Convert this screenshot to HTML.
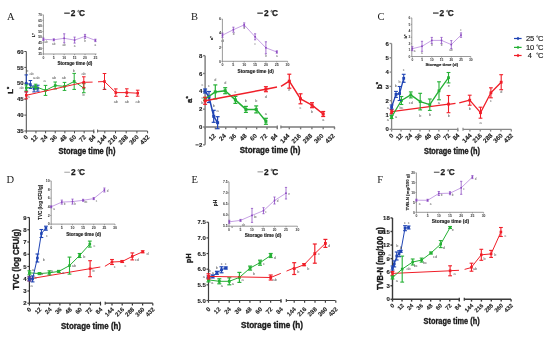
<!DOCTYPE html><html><head><meta charset="utf-8"><style>html,body{margin:0;padding:0;background:#fff;overflow:hidden;}svg{display:block;filter:blur(0.42px);}</style></head><body>
<svg width="550" height="337" viewBox="0 0 550 337">
<rect width="550" height="337" fill="#fff"/>
<g opacity="0.999">
<text x="7" y="19.8" font-family="Liberation Serif, serif" font-size="10.5" font-weight="normal" text-anchor="start" fill="#1a1a1a">A</text>
<rect x="64.2" y="12.6" width="5.6" height="1.1" fill="#1a1a1a"/>
<g font-family="Liberation Sans, sans-serif" font-size="8.3" font-weight="bold" fill="#1a1a1a" stroke="#1a1a1a" stroke-width="0.25">
<text x="70.8" y="16.2">2</text>
<text x="79" y="16.2">C</text>
</g>
<circle cx="78.5" cy="11.2" r="0.8" fill="none" stroke="#1a1a1a" stroke-width="0.6"/>
<line x1="26.3" y1="51.5" x2="26.3" y2="131" stroke="#4a4a4a" stroke-width="1"/>
<line x1="24.3" y1="51.5" x2="26.3" y2="51.5" stroke="#4a4a4a" stroke-width="1"/>
<text x="23.6" y="53.66" font-family="Liberation Sans, sans-serif" font-size="6" font-weight="bold" text-anchor="end" fill="#1a1a1a" stroke="#1a1a1a" stroke-width="0.12">60</text>
<line x1="24.3" y1="67.4" x2="26.3" y2="67.4" stroke="#4a4a4a" stroke-width="1"/>
<text x="23.6" y="69.56" font-family="Liberation Sans, sans-serif" font-size="6" font-weight="bold" text-anchor="end" fill="#1a1a1a" stroke="#1a1a1a" stroke-width="0.12">55</text>
<line x1="24.3" y1="83.3" x2="26.3" y2="83.3" stroke="#4a4a4a" stroke-width="1"/>
<text x="23.6" y="85.46" font-family="Liberation Sans, sans-serif" font-size="6" font-weight="bold" text-anchor="end" fill="#1a1a1a" stroke="#1a1a1a" stroke-width="0.12">50</text>
<line x1="24.3" y1="99.2" x2="26.3" y2="99.2" stroke="#4a4a4a" stroke-width="1"/>
<text x="23.6" y="101.36" font-family="Liberation Sans, sans-serif" font-size="6" font-weight="bold" text-anchor="end" fill="#1a1a1a" stroke="#1a1a1a" stroke-width="0.12">45</text>
<line x1="24.3" y1="115.1" x2="26.3" y2="115.1" stroke="#4a4a4a" stroke-width="1"/>
<text x="23.6" y="117.26" font-family="Liberation Sans, sans-serif" font-size="6" font-weight="bold" text-anchor="end" fill="#1a1a1a" stroke="#1a1a1a" stroke-width="0.12">40</text>
<line x1="24.3" y1="131" x2="26.3" y2="131" stroke="#4a4a4a" stroke-width="1"/>
<text x="23.6" y="133.16" font-family="Liberation Sans, sans-serif" font-size="6" font-weight="bold" text-anchor="end" fill="#1a1a1a" stroke="#1a1a1a" stroke-width="0.12">35</text>
<line x1="26.3" y1="131" x2="93.8" y2="131" stroke="#4a4a4a" stroke-width="1"/>
<line x1="97.6" y1="131" x2="147.5" y2="131" stroke="#4a4a4a" stroke-width="1"/>
<line x1="93.8" y1="129.5" x2="93.8" y2="132.5" stroke="#4a4a4a" stroke-width="0.9"/>
<line x1="97.6" y1="129.5" x2="97.6" y2="132.5" stroke="#4a4a4a" stroke-width="0.9"/>
<line x1="26.3" y1="131" x2="26.3" y2="133.3" stroke="#4a4a4a" stroke-width="1"/>
<text x="28.6" y="137.6" font-family="Liberation Sans, sans-serif" font-size="6.3" font-weight="bold" text-anchor="end" fill="#1a1a1a" transform="rotate(-45 28.6 137.6)" stroke="#1a1a1a" stroke-width="0.1">0</text>
<line x1="35.94" y1="131" x2="35.94" y2="133.3" stroke="#4a4a4a" stroke-width="1"/>
<text x="38.24" y="137.6" font-family="Liberation Sans, sans-serif" font-size="6.3" font-weight="bold" text-anchor="end" fill="#1a1a1a" transform="rotate(-45 38.24 137.6)" stroke="#1a1a1a" stroke-width="0.1">12</text>
<line x1="45.59" y1="131" x2="45.59" y2="133.3" stroke="#4a4a4a" stroke-width="1"/>
<text x="47.89" y="137.6" font-family="Liberation Sans, sans-serif" font-size="6.3" font-weight="bold" text-anchor="end" fill="#1a1a1a" transform="rotate(-45 47.89 137.6)" stroke="#1a1a1a" stroke-width="0.1">24</text>
<line x1="55.23" y1="131" x2="55.23" y2="133.3" stroke="#4a4a4a" stroke-width="1"/>
<text x="57.53" y="137.6" font-family="Liberation Sans, sans-serif" font-size="6.3" font-weight="bold" text-anchor="end" fill="#1a1a1a" transform="rotate(-45 57.53 137.6)" stroke="#1a1a1a" stroke-width="0.1">36</text>
<line x1="64.87" y1="131" x2="64.87" y2="133.3" stroke="#4a4a4a" stroke-width="1"/>
<text x="67.17" y="137.6" font-family="Liberation Sans, sans-serif" font-size="6.3" font-weight="bold" text-anchor="end" fill="#1a1a1a" transform="rotate(-45 67.17 137.6)" stroke="#1a1a1a" stroke-width="0.1">48</text>
<line x1="74.51" y1="131" x2="74.51" y2="133.3" stroke="#4a4a4a" stroke-width="1"/>
<text x="76.81" y="137.6" font-family="Liberation Sans, sans-serif" font-size="6.3" font-weight="bold" text-anchor="end" fill="#1a1a1a" transform="rotate(-45 76.81 137.6)" stroke="#1a1a1a" stroke-width="0.1">60</text>
<line x1="84.16" y1="131" x2="84.16" y2="133.3" stroke="#4a4a4a" stroke-width="1"/>
<text x="86.46" y="137.6" font-family="Liberation Sans, sans-serif" font-size="6.3" font-weight="bold" text-anchor="end" fill="#1a1a1a" transform="rotate(-45 86.46 137.6)" stroke="#1a1a1a" stroke-width="0.1">72</text>
<line x1="93.8" y1="131" x2="93.8" y2="133.3" stroke="#4a4a4a" stroke-width="1"/>
<text x="96.1" y="137.6" font-family="Liberation Sans, sans-serif" font-size="6.3" font-weight="bold" text-anchor="end" fill="#1a1a1a" transform="rotate(-45 96.1 137.6)" stroke="#1a1a1a" stroke-width="0.1">84</text>
<line x1="104.8" y1="131" x2="104.8" y2="133.3" stroke="#4a4a4a" stroke-width="1"/>
<text x="107.1" y="137.6" font-family="Liberation Sans, sans-serif" font-size="6.3" font-weight="bold" text-anchor="end" fill="#1a1a1a" transform="rotate(-45 107.1 137.6)" stroke="#1a1a1a" stroke-width="0.1">144</text>
<line x1="115.5" y1="131" x2="115.5" y2="133.3" stroke="#4a4a4a" stroke-width="1"/>
<text x="117.8" y="137.6" font-family="Liberation Sans, sans-serif" font-size="6.3" font-weight="bold" text-anchor="end" fill="#1a1a1a" transform="rotate(-45 117.8 137.6)" stroke="#1a1a1a" stroke-width="0.1">216</text>
<line x1="126.2" y1="131" x2="126.2" y2="133.3" stroke="#4a4a4a" stroke-width="1"/>
<text x="128.5" y="137.6" font-family="Liberation Sans, sans-serif" font-size="6.3" font-weight="bold" text-anchor="end" fill="#1a1a1a" transform="rotate(-45 128.5 137.6)" stroke="#1a1a1a" stroke-width="0.1">288</text>
<line x1="136.9" y1="131" x2="136.9" y2="133.3" stroke="#4a4a4a" stroke-width="1"/>
<text x="139.2" y="137.6" font-family="Liberation Sans, sans-serif" font-size="6.3" font-weight="bold" text-anchor="end" fill="#1a1a1a" transform="rotate(-45 139.2 137.6)" stroke="#1a1a1a" stroke-width="0.1">360</text>
<line x1="147.6" y1="131" x2="147.6" y2="133.3" stroke="#4a4a4a" stroke-width="1"/>
<text x="149.9" y="137.6" font-family="Liberation Sans, sans-serif" font-size="6.3" font-weight="bold" text-anchor="end" fill="#1a1a1a" transform="rotate(-45 149.9 137.6)" stroke="#1a1a1a" stroke-width="0.1">432</text>
<text x="58.4" y="154.3" font-family="Liberation Sans, sans-serif" font-size="8.4" font-weight="bold" text-anchor="start" fill="#1a1a1a" stroke="#1a1a1a" stroke-width="0.35" textLength="57" lengthAdjust="spacingAndGlyphs">Storage time (h)</text>
<text x="12.9" y="90.3" font-family="Liberation Sans, sans-serif" font-size="7.9" font-weight="bold" text-anchor="middle" fill="#1a1a1a" transform="rotate(-90 12.9 90.3)" stroke="#1a1a1a" stroke-width="0.35">L<tspan font-size="5.5" dy="-1.8">*</tspan></text>
<polyline points="26.3,83.4 30.4,84.5 34.1,88.9 37.8,88.2" fill="none" stroke="#1f44b4" stroke-width="1" stroke-linejoin="round"/>
<line x1="26.3" y1="74.9" x2="26.3" y2="91.9" stroke="#1f44b4" stroke-width="1"/>
<line x1="24.5" y1="74.9" x2="28.1" y2="74.9" stroke="#1f44b4" stroke-width="1"/>
<line x1="24.5" y1="91.9" x2="28.1" y2="91.9" stroke="#1f44b4" stroke-width="1"/>
<rect x="25" y="82.1" width="2.6" height="2.6" fill="#1f44b4"/>
<line x1="30.4" y1="80.5" x2="30.4" y2="88.5" stroke="#1f44b4" stroke-width="1"/>
<line x1="28.6" y1="80.5" x2="32.2" y2="80.5" stroke="#1f44b4" stroke-width="1"/>
<line x1="28.6" y1="88.5" x2="32.2" y2="88.5" stroke="#1f44b4" stroke-width="1"/>
<rect x="29.1" y="83.2" width="2.6" height="2.6" fill="#1f44b4"/>
<line x1="34.1" y1="85.9" x2="34.1" y2="91.9" stroke="#1f44b4" stroke-width="1"/>
<line x1="32.3" y1="85.9" x2="35.9" y2="85.9" stroke="#1f44b4" stroke-width="1"/>
<line x1="32.3" y1="91.9" x2="35.9" y2="91.9" stroke="#1f44b4" stroke-width="1"/>
<rect x="32.8" y="87.6" width="2.6" height="2.6" fill="#1f44b4"/>
<line x1="37.8" y1="85.2" x2="37.8" y2="91.2" stroke="#1f44b4" stroke-width="1"/>
<line x1="36" y1="85.2" x2="39.6" y2="85.2" stroke="#1f44b4" stroke-width="1"/>
<line x1="36" y1="91.2" x2="39.6" y2="91.2" stroke="#1f44b4" stroke-width="1"/>
<rect x="36.5" y="86.9" width="2.6" height="2.6" fill="#1f44b4"/>
<polyline points="26.3,87.9 35.6,86.7 45.5,90.4 55.2,85.5 64.5,86.4 74.2,81.4 83.8,88.2" fill="none" stroke="#24b034" stroke-width="1" stroke-linejoin="round"/>
<line x1="26.3" y1="84.9" x2="26.3" y2="90.9" stroke="#24b034" stroke-width="1"/>
<line x1="24.5" y1="84.9" x2="28.1" y2="84.9" stroke="#24b034" stroke-width="1"/>
<line x1="24.5" y1="90.9" x2="28.1" y2="90.9" stroke="#24b034" stroke-width="1"/>
<rect x="25" y="86.6" width="2.6" height="2.6" fill="#24b034"/>
<line x1="35.6" y1="84.2" x2="35.6" y2="89.2" stroke="#24b034" stroke-width="1"/>
<line x1="33.8" y1="84.2" x2="37.4" y2="84.2" stroke="#24b034" stroke-width="1"/>
<line x1="33.8" y1="89.2" x2="37.4" y2="89.2" stroke="#24b034" stroke-width="1"/>
<rect x="34.3" y="85.4" width="2.6" height="2.6" fill="#24b034"/>
<line x1="45.5" y1="85.4" x2="45.5" y2="95.4" stroke="#24b034" stroke-width="1"/>
<line x1="43.7" y1="85.4" x2="47.3" y2="85.4" stroke="#24b034" stroke-width="1"/>
<line x1="43.7" y1="95.4" x2="47.3" y2="95.4" stroke="#24b034" stroke-width="1"/>
<rect x="44.2" y="89.1" width="2.6" height="2.6" fill="#24b034"/>
<line x1="55.2" y1="82" x2="55.2" y2="89" stroke="#24b034" stroke-width="1"/>
<line x1="53.4" y1="82" x2="57" y2="82" stroke="#24b034" stroke-width="1"/>
<line x1="53.4" y1="89" x2="57" y2="89" stroke="#24b034" stroke-width="1"/>
<rect x="53.9" y="84.2" width="2.6" height="2.6" fill="#24b034"/>
<line x1="64.5" y1="82.4" x2="64.5" y2="90.4" stroke="#24b034" stroke-width="1"/>
<line x1="62.7" y1="82.4" x2="66.3" y2="82.4" stroke="#24b034" stroke-width="1"/>
<line x1="62.7" y1="90.4" x2="66.3" y2="90.4" stroke="#24b034" stroke-width="1"/>
<rect x="63.2" y="85.1" width="2.6" height="2.6" fill="#24b034"/>
<line x1="74.2" y1="73.4" x2="74.2" y2="89.4" stroke="#24b034" stroke-width="1"/>
<line x1="72.4" y1="73.4" x2="76" y2="73.4" stroke="#24b034" stroke-width="1"/>
<line x1="72.4" y1="89.4" x2="76" y2="89.4" stroke="#24b034" stroke-width="1"/>
<rect x="72.9" y="80.1" width="2.6" height="2.6" fill="#24b034"/>
<line x1="83.8" y1="83.7" x2="83.8" y2="92.7" stroke="#24b034" stroke-width="1"/>
<line x1="82" y1="83.7" x2="85.6" y2="83.7" stroke="#24b034" stroke-width="1"/>
<line x1="82" y1="92.7" x2="85.6" y2="92.7" stroke="#24b034" stroke-width="1"/>
<rect x="82.5" y="86.9" width="2.6" height="2.6" fill="#24b034"/>
<polyline points="26.3,95.3 83.8,82.3" fill="none" stroke="#f01e28" stroke-width="1" stroke-linejoin="round"/>
<line x1="26.3" y1="91.8" x2="26.3" y2="98.8" stroke="#f01e28" stroke-width="1"/>
<line x1="24.5" y1="91.8" x2="28.1" y2="91.8" stroke="#f01e28" stroke-width="1"/>
<line x1="24.5" y1="98.8" x2="28.1" y2="98.8" stroke="#f01e28" stroke-width="1"/>
<rect x="25" y="94" width="2.6" height="2.6" fill="#f01e28"/>
<line x1="83.8" y1="76.8" x2="83.8" y2="87.8" stroke="#f01e28" stroke-width="1"/>
<line x1="82" y1="76.8" x2="85.6" y2="76.8" stroke="#f01e28" stroke-width="1"/>
<line x1="82" y1="87.8" x2="85.6" y2="87.8" stroke="#f01e28" stroke-width="1"/>
<rect x="82.5" y="81" width="2.6" height="2.6" fill="#f01e28"/>
<polyline points="104.5,81.5 115.8,92.6 126.8,92.6 137.7,93.2" fill="none" stroke="#f01e28" stroke-width="1" stroke-linejoin="round"/>
<line x1="104.5" y1="73.5" x2="104.5" y2="89.5" stroke="#f01e28" stroke-width="1"/>
<line x1="102.7" y1="73.5" x2="106.3" y2="73.5" stroke="#f01e28" stroke-width="1"/>
<line x1="102.7" y1="89.5" x2="106.3" y2="89.5" stroke="#f01e28" stroke-width="1"/>
<rect x="103.2" y="80.2" width="2.6" height="2.6" fill="#f01e28"/>
<line x1="115.8" y1="88.9" x2="115.8" y2="96.3" stroke="#f01e28" stroke-width="1"/>
<line x1="114" y1="88.9" x2="117.6" y2="88.9" stroke="#f01e28" stroke-width="1"/>
<line x1="114" y1="96.3" x2="117.6" y2="96.3" stroke="#f01e28" stroke-width="1"/>
<rect x="114.5" y="91.3" width="2.6" height="2.6" fill="#f01e28"/>
<line x1="126.8" y1="88.8" x2="126.8" y2="96.4" stroke="#f01e28" stroke-width="1"/>
<line x1="125" y1="88.8" x2="128.6" y2="88.8" stroke="#f01e28" stroke-width="1"/>
<line x1="125" y1="96.4" x2="128.6" y2="96.4" stroke="#f01e28" stroke-width="1"/>
<rect x="125.5" y="91.3" width="2.6" height="2.6" fill="#f01e28"/>
<line x1="137.7" y1="90.2" x2="137.7" y2="96.2" stroke="#f01e28" stroke-width="1"/>
<line x1="135.9" y1="90.2" x2="139.5" y2="90.2" stroke="#f01e28" stroke-width="1"/>
<line x1="135.9" y1="96.2" x2="139.5" y2="96.2" stroke="#f01e28" stroke-width="1"/>
<rect x="136.4" y="91.9" width="2.6" height="2.6" fill="#f01e28"/>
<polyline points="83.8,82.3 92.6,82.1" fill="none" stroke="#f01e28" stroke-width="1" stroke-linejoin="round"/>
<polyline points="98,81.8 104.5,81.5" fill="none" stroke="#f01e28" stroke-width="1" stroke-linejoin="round"/>
<text x="27.4" y="72.4" font-family="Liberation Sans, sans-serif" font-size="3.8" font-weight="normal" text-anchor="middle" fill="#555">b</text>
<text x="31.6" y="75.4" font-family="Liberation Sans, sans-serif" font-size="3.8" font-weight="normal" text-anchor="middle" fill="#555">ab</text>
<text x="34.1" y="78.8" font-family="Liberation Sans, sans-serif" font-size="3.8" font-weight="normal" text-anchor="middle" fill="#555">a</text>
<text x="37.6" y="78.8" font-family="Liberation Sans, sans-serif" font-size="3.8" font-weight="normal" text-anchor="middle" fill="#555">ab</text>
<text x="44.5" y="82.4" font-family="Liberation Sans, sans-serif" font-size="3.8" font-weight="normal" text-anchor="middle" fill="#555">a</text>
<text x="54.1" y="79.1" font-family="Liberation Sans, sans-serif" font-size="3.8" font-weight="normal" text-anchor="middle" fill="#555">ab</text>
<text x="63.8" y="79.1" font-family="Liberation Sans, sans-serif" font-size="3.8" font-weight="normal" text-anchor="middle" fill="#555">ab</text>
<text x="73.7" y="71.7" font-family="Liberation Sans, sans-serif" font-size="3.8" font-weight="normal" text-anchor="middle" fill="#555">b</text>
<text x="83.5" y="75.4" font-family="Liberation Sans, sans-serif" font-size="3.8" font-weight="normal" text-anchor="middle" fill="#555">ab</text>
<text x="83.5" y="96.2" font-family="Liberation Sans, sans-serif" font-size="3.8" font-weight="normal" text-anchor="middle" fill="#555">b</text>
<text x="21.5" y="89.2" font-family="Liberation Sans, sans-serif" font-size="3.8" font-weight="normal" text-anchor="middle" fill="#555">ab</text>
<text x="28.6" y="98.4" font-family="Liberation Sans, sans-serif" font-size="3.8" font-weight="normal" text-anchor="middle" fill="#555">a</text>
<text x="104.5" y="90.3" font-family="Liberation Sans, sans-serif" font-size="3.8" font-weight="normal" text-anchor="middle" fill="#555">b</text>
<text x="115.8" y="102.8" font-family="Liberation Sans, sans-serif" font-size="3.8" font-weight="normal" text-anchor="middle" fill="#555">ab</text>
<text x="126.8" y="102.8" font-family="Liberation Sans, sans-serif" font-size="3.8" font-weight="normal" text-anchor="middle" fill="#555">ab</text>
<text x="137.7" y="102.8" font-family="Liberation Sans, sans-serif" font-size="3.8" font-weight="normal" text-anchor="middle" fill="#555">ab</text>
<text x="46" y="43" font-family="Liberation Sans, sans-serif" font-size="3" font-weight="normal" text-anchor="middle" fill="#555">ab</text>
<text x="53.7" y="45.1" font-family="Liberation Sans, sans-serif" font-size="3" font-weight="normal" text-anchor="middle" fill="#555">ab</text>
<text x="64.1" y="45.8" font-family="Liberation Sans, sans-serif" font-size="3" font-weight="normal" text-anchor="middle" fill="#555">ab</text>
<text x="74.5" y="46.6" font-family="Liberation Sans, sans-serif" font-size="3" font-weight="normal" text-anchor="middle" fill="#555">a</text>
<text x="85" y="41.7" font-family="Liberation Sans, sans-serif" font-size="3" font-weight="normal" text-anchor="middle" fill="#555">b</text>
<text x="95.3" y="45.8" font-family="Liberation Sans, sans-serif" font-size="3" font-weight="normal" text-anchor="middle" fill="#555">a</text>
<line x1="43.4" y1="14.8" x2="43.4" y2="54" stroke="#808080" stroke-width="0.8"/>
<line x1="42.4" y1="14.8" x2="43.4" y2="14.8" stroke="#808080" stroke-width="0.8"/>
<text x="42" y="16.02" font-family="Liberation Sans, sans-serif" font-size="3.4" font-weight="bold" text-anchor="end" fill="#333">70</text>
<line x1="42.4" y1="20.4" x2="43.4" y2="20.4" stroke="#808080" stroke-width="0.8"/>
<text x="42" y="21.62" font-family="Liberation Sans, sans-serif" font-size="3.4" font-weight="bold" text-anchor="end" fill="#333">65</text>
<line x1="42.4" y1="26" x2="43.4" y2="26" stroke="#808080" stroke-width="0.8"/>
<text x="42" y="27.22" font-family="Liberation Sans, sans-serif" font-size="3.4" font-weight="bold" text-anchor="end" fill="#333">60</text>
<line x1="42.4" y1="31.6" x2="43.4" y2="31.6" stroke="#808080" stroke-width="0.8"/>
<text x="42" y="32.82" font-family="Liberation Sans, sans-serif" font-size="3.4" font-weight="bold" text-anchor="end" fill="#333">55</text>
<line x1="42.4" y1="37.2" x2="43.4" y2="37.2" stroke="#808080" stroke-width="0.8"/>
<text x="42" y="38.42" font-family="Liberation Sans, sans-serif" font-size="3.4" font-weight="bold" text-anchor="end" fill="#333">50</text>
<line x1="42.4" y1="42.8" x2="43.4" y2="42.8" stroke="#808080" stroke-width="0.8"/>
<text x="42" y="44.02" font-family="Liberation Sans, sans-serif" font-size="3.4" font-weight="bold" text-anchor="end" fill="#333">45</text>
<line x1="42.4" y1="48.4" x2="43.4" y2="48.4" stroke="#808080" stroke-width="0.8"/>
<text x="42" y="49.62" font-family="Liberation Sans, sans-serif" font-size="3.4" font-weight="bold" text-anchor="end" fill="#333">40</text>
<line x1="42.4" y1="54" x2="43.4" y2="54" stroke="#808080" stroke-width="0.8"/>
<text x="42" y="55.22" font-family="Liberation Sans, sans-serif" font-size="3.4" font-weight="bold" text-anchor="end" fill="#333">35</text>
<line x1="43.4" y1="54" x2="96.5" y2="54" stroke="#808080" stroke-width="0.8"/>
<line x1="43.4" y1="54" x2="43.4" y2="55.2" stroke="#808080" stroke-width="0.8"/>
<text x="43.4" y="58.9" font-family="Liberation Sans, sans-serif" font-size="3.4" font-weight="bold" text-anchor="middle" fill="#333">0</text>
<line x1="53.8" y1="54" x2="53.8" y2="55.2" stroke="#808080" stroke-width="0.8"/>
<text x="53.8" y="58.9" font-family="Liberation Sans, sans-serif" font-size="3.4" font-weight="bold" text-anchor="middle" fill="#333">5</text>
<line x1="64.2" y1="54" x2="64.2" y2="55.2" stroke="#808080" stroke-width="0.8"/>
<text x="64.2" y="58.9" font-family="Liberation Sans, sans-serif" font-size="3.4" font-weight="bold" text-anchor="middle" fill="#333">10</text>
<line x1="74.6" y1="54" x2="74.6" y2="55.2" stroke="#808080" stroke-width="0.8"/>
<text x="74.6" y="58.9" font-family="Liberation Sans, sans-serif" font-size="3.4" font-weight="bold" text-anchor="middle" fill="#333">15</text>
<line x1="85" y1="54" x2="85" y2="55.2" stroke="#808080" stroke-width="0.8"/>
<text x="85" y="58.9" font-family="Liberation Sans, sans-serif" font-size="3.4" font-weight="bold" text-anchor="middle" fill="#333">20</text>
<line x1="95.4" y1="54" x2="95.4" y2="55.2" stroke="#808080" stroke-width="0.8"/>
<text x="95.4" y="58.9" font-family="Liberation Sans, sans-serif" font-size="3.4" font-weight="bold" text-anchor="middle" fill="#333">25</text>
<text x="57.4" y="64.7" font-family="Liberation Sans, sans-serif" font-size="4.6" font-weight="bold" text-anchor="start" fill="#1a1a1a" stroke="#1a1a1a" stroke-width="0.15">Storage time (d)</text>
<text x="35.2" y="35.2" font-family="Liberation Sans, sans-serif" font-size="4.2" font-weight="bold" text-anchor="middle" fill="#1a1a1a" transform="rotate(-90 35.2 35.2)" stroke="#1a1a1a" stroke-width="0.12">L*</text>
<polyline points="43.4,39.3 53.8,39.8 64.2,38.3 74.6,40.1 85,36.4 95.4,40.4" fill="none" stroke="#ae78d8" stroke-width="0.7" stroke-linejoin="round"/>
<line x1="43.4" y1="38.1" x2="43.4" y2="40.5" stroke="#8a48c0" stroke-width="0.75"/>
<line x1="42.3" y1="38.1" x2="44.5" y2="38.1" stroke="#8a48c0" stroke-width="0.75"/>
<line x1="42.3" y1="40.5" x2="44.5" y2="40.5" stroke="#8a48c0" stroke-width="0.75"/>
<rect x="42.6" y="38.5" width="1.6" height="1.6" fill="#8a48c0"/>
<line x1="53.8" y1="38.8" x2="53.8" y2="40.8" stroke="#8a48c0" stroke-width="0.75"/>
<line x1="52.7" y1="38.8" x2="54.9" y2="38.8" stroke="#8a48c0" stroke-width="0.75"/>
<line x1="52.7" y1="40.8" x2="54.9" y2="40.8" stroke="#8a48c0" stroke-width="0.75"/>
<rect x="53" y="39" width="1.6" height="1.6" fill="#8a48c0"/>
<line x1="64.2" y1="33.8" x2="64.2" y2="42.8" stroke="#8a48c0" stroke-width="0.75"/>
<line x1="63.1" y1="33.8" x2="65.3" y2="33.8" stroke="#8a48c0" stroke-width="0.75"/>
<line x1="63.1" y1="42.8" x2="65.3" y2="42.8" stroke="#8a48c0" stroke-width="0.75"/>
<rect x="63.4" y="37.5" width="1.6" height="1.6" fill="#8a48c0"/>
<line x1="74.6" y1="37.1" x2="74.6" y2="43.1" stroke="#8a48c0" stroke-width="0.75"/>
<line x1="73.5" y1="37.1" x2="75.7" y2="37.1" stroke="#8a48c0" stroke-width="0.75"/>
<line x1="73.5" y1="43.1" x2="75.7" y2="43.1" stroke="#8a48c0" stroke-width="0.75"/>
<rect x="73.8" y="39.3" width="1.6" height="1.6" fill="#8a48c0"/>
<line x1="85" y1="34.4" x2="85" y2="38.4" stroke="#8a48c0" stroke-width="0.75"/>
<line x1="83.9" y1="34.4" x2="86.1" y2="34.4" stroke="#8a48c0" stroke-width="0.75"/>
<line x1="83.9" y1="38.4" x2="86.1" y2="38.4" stroke="#8a48c0" stroke-width="0.75"/>
<rect x="84.2" y="35.6" width="1.6" height="1.6" fill="#8a48c0"/>
<line x1="95.4" y1="39.2" x2="95.4" y2="41.6" stroke="#8a48c0" stroke-width="0.75"/>
<line x1="94.3" y1="39.2" x2="96.5" y2="39.2" stroke="#8a48c0" stroke-width="0.75"/>
<line x1="94.3" y1="41.6" x2="96.5" y2="41.6" stroke="#8a48c0" stroke-width="0.75"/>
<rect x="94.6" y="39.6" width="1.6" height="1.6" fill="#8a48c0"/>
<text x="190.9" y="19.6" font-family="Liberation Serif, serif" font-size="10.5" font-weight="normal" text-anchor="start" fill="#1a1a1a">B</text>
<rect x="257.3" y="12.6" width="5.6" height="1.1" fill="#1a1a1a"/>
<g font-family="Liberation Sans, sans-serif" font-size="8.3" font-weight="bold" fill="#1a1a1a" stroke="#1a1a1a" stroke-width="0.25">
<text x="263.9" y="16.2">2</text>
<text x="272.1" y="16.2">C</text>
</g>
<circle cx="271.6" cy="11.2" r="0.8" fill="none" stroke="#1a1a1a" stroke-width="0.6"/>
<line x1="205.1" y1="55.64" x2="205.1" y2="144.84" stroke="#7a7a7a" stroke-width="1.4"/>
<line x1="203.1" y1="55.64" x2="205.1" y2="55.64" stroke="#7a7a7a" stroke-width="1.4"/>
<text x="202.4" y="57.8" font-family="Liberation Sans, sans-serif" font-size="6" font-weight="bold" text-anchor="end" fill="#1a1a1a" stroke="#1a1a1a" stroke-width="0.12">8</text>
<line x1="203.1" y1="73.48" x2="205.1" y2="73.48" stroke="#7a7a7a" stroke-width="1.4"/>
<text x="202.4" y="75.64" font-family="Liberation Sans, sans-serif" font-size="6" font-weight="bold" text-anchor="end" fill="#1a1a1a" stroke="#1a1a1a" stroke-width="0.12">6</text>
<line x1="203.1" y1="91.32" x2="205.1" y2="91.32" stroke="#7a7a7a" stroke-width="1.4"/>
<text x="202.4" y="93.48" font-family="Liberation Sans, sans-serif" font-size="6" font-weight="bold" text-anchor="end" fill="#1a1a1a" stroke="#1a1a1a" stroke-width="0.12">4</text>
<line x1="203.1" y1="109.16" x2="205.1" y2="109.16" stroke="#7a7a7a" stroke-width="1.4"/>
<text x="202.4" y="111.32" font-family="Liberation Sans, sans-serif" font-size="6" font-weight="bold" text-anchor="end" fill="#1a1a1a" stroke="#1a1a1a" stroke-width="0.12">2</text>
<line x1="203.1" y1="127" x2="205.1" y2="127" stroke="#7a7a7a" stroke-width="1.4"/>
<text x="202.4" y="129.16" font-family="Liberation Sans, sans-serif" font-size="6" font-weight="bold" text-anchor="end" fill="#1a1a1a" stroke="#1a1a1a" stroke-width="0.12">0</text>
<line x1="203.1" y1="144.84" x2="205.1" y2="144.84" stroke="#7a7a7a" stroke-width="1.4"/>
<text x="202.4" y="147" font-family="Liberation Sans, sans-serif" font-size="6" font-weight="bold" text-anchor="end" fill="#1a1a1a" stroke="#1a1a1a" stroke-width="0.12">−2</text>
<line x1="205.1" y1="127" x2="277.3" y2="127" stroke="#7a7a7a" stroke-width="1.4"/>
<line x1="280.9" y1="127" x2="334.9" y2="127" stroke="#7a7a7a" stroke-width="1.4"/>
<line x1="277.3" y1="125.5" x2="277.3" y2="128.5" stroke="#7a7a7a" stroke-width="1.26"/>
<line x1="280.9" y1="125.5" x2="280.9" y2="128.5" stroke="#7a7a7a" stroke-width="1.26"/>
<line x1="205.1" y1="127" x2="205.1" y2="129.3" stroke="#7a7a7a" stroke-width="1.4"/>
<line x1="215.41" y1="127" x2="215.41" y2="129.3" stroke="#7a7a7a" stroke-width="1.4"/>
<text x="216.21" y="136.2" font-family="Liberation Sans, sans-serif" font-size="6.3" font-weight="bold" text-anchor="end" fill="#1a1a1a" transform="rotate(-45 216.21 136.2)" stroke="#1a1a1a" stroke-width="0.1">12</text>
<line x1="225.73" y1="127" x2="225.73" y2="129.3" stroke="#7a7a7a" stroke-width="1.4"/>
<text x="226.53" y="136.2" font-family="Liberation Sans, sans-serif" font-size="6.3" font-weight="bold" text-anchor="end" fill="#1a1a1a" transform="rotate(-45 226.53 136.2)" stroke="#1a1a1a" stroke-width="0.1">24</text>
<line x1="236.04" y1="127" x2="236.04" y2="129.3" stroke="#7a7a7a" stroke-width="1.4"/>
<text x="236.84" y="136.2" font-family="Liberation Sans, sans-serif" font-size="6.3" font-weight="bold" text-anchor="end" fill="#1a1a1a" transform="rotate(-45 236.84 136.2)" stroke="#1a1a1a" stroke-width="0.1">36</text>
<line x1="246.36" y1="127" x2="246.36" y2="129.3" stroke="#7a7a7a" stroke-width="1.4"/>
<text x="247.16" y="136.2" font-family="Liberation Sans, sans-serif" font-size="6.3" font-weight="bold" text-anchor="end" fill="#1a1a1a" transform="rotate(-45 247.16 136.2)" stroke="#1a1a1a" stroke-width="0.1">48</text>
<line x1="256.67" y1="127" x2="256.67" y2="129.3" stroke="#7a7a7a" stroke-width="1.4"/>
<text x="257.47" y="136.2" font-family="Liberation Sans, sans-serif" font-size="6.3" font-weight="bold" text-anchor="end" fill="#1a1a1a" transform="rotate(-45 257.47 136.2)" stroke="#1a1a1a" stroke-width="0.1">60</text>
<line x1="266.99" y1="127" x2="266.99" y2="129.3" stroke="#7a7a7a" stroke-width="1.4"/>
<text x="267.79" y="136.2" font-family="Liberation Sans, sans-serif" font-size="6.3" font-weight="bold" text-anchor="end" fill="#1a1a1a" transform="rotate(-45 267.79 136.2)" stroke="#1a1a1a" stroke-width="0.1">72</text>
<line x1="277.3" y1="127" x2="277.3" y2="129.3" stroke="#7a7a7a" stroke-width="1.4"/>
<text x="278.1" y="136.2" font-family="Liberation Sans, sans-serif" font-size="6.3" font-weight="bold" text-anchor="end" fill="#1a1a1a" transform="rotate(-45 278.1 136.2)" stroke="#1a1a1a" stroke-width="0.1">84</text>
<line x1="289.3" y1="127" x2="289.3" y2="129.3" stroke="#7a7a7a" stroke-width="1.4"/>
<text x="290.1" y="136.2" font-family="Liberation Sans, sans-serif" font-size="6.3" font-weight="bold" text-anchor="end" fill="#1a1a1a" transform="rotate(-45 290.1 136.2)" stroke="#1a1a1a" stroke-width="0.1">144</text>
<line x1="300.6" y1="127" x2="300.6" y2="129.3" stroke="#7a7a7a" stroke-width="1.4"/>
<text x="301.4" y="136.2" font-family="Liberation Sans, sans-serif" font-size="6.3" font-weight="bold" text-anchor="end" fill="#1a1a1a" transform="rotate(-45 301.4 136.2)" stroke="#1a1a1a" stroke-width="0.1">216</text>
<line x1="311.9" y1="127" x2="311.9" y2="129.3" stroke="#7a7a7a" stroke-width="1.4"/>
<text x="312.7" y="136.2" font-family="Liberation Sans, sans-serif" font-size="6.3" font-weight="bold" text-anchor="end" fill="#1a1a1a" transform="rotate(-45 312.7 136.2)" stroke="#1a1a1a" stroke-width="0.1">288</text>
<line x1="323.2" y1="127" x2="323.2" y2="129.3" stroke="#7a7a7a" stroke-width="1.4"/>
<text x="324" y="136.2" font-family="Liberation Sans, sans-serif" font-size="6.3" font-weight="bold" text-anchor="end" fill="#1a1a1a" transform="rotate(-45 324 136.2)" stroke="#1a1a1a" stroke-width="0.1">360</text>
<line x1="334.5" y1="127" x2="334.5" y2="129.3" stroke="#7a7a7a" stroke-width="1.4"/>
<text x="335.3" y="136.2" font-family="Liberation Sans, sans-serif" font-size="6.3" font-weight="bold" text-anchor="end" fill="#1a1a1a" transform="rotate(-45 335.3 136.2)" stroke="#1a1a1a" stroke-width="0.1">432</text>
<text x="239.8" y="152.9" font-family="Liberation Sans, sans-serif" font-size="8.6" font-weight="bold" text-anchor="start" fill="#1a1a1a" stroke="#1a1a1a" stroke-width="0.35" textLength="60.5" lengthAdjust="spacingAndGlyphs">Storage time (h)</text>
<text x="191.9" y="99.6" font-family="Liberation Sans, sans-serif" font-size="7.9" font-weight="bold" text-anchor="middle" fill="#1a1a1a" transform="rotate(-90 191.9 99.6)" stroke="#1a1a1a" stroke-width="0.35">a<tspan font-size="5.5" dy="-1.8">*</tspan></text>
<polyline points="205.1,91 209,97 213.7,116.3 217.6,122.7" fill="none" stroke="#1f44b4" stroke-width="1.5" stroke-linejoin="round"/>
<line x1="205.1" y1="89" x2="205.1" y2="93" stroke="#1f44b4" stroke-width="1.2"/>
<line x1="203.1" y1="89" x2="207.1" y2="89" stroke="#1f44b4" stroke-width="1.2"/>
<line x1="203.1" y1="93" x2="207.1" y2="93" stroke="#1f44b4" stroke-width="1.2"/>
<rect x="203.6" y="89.5" width="3" height="3" fill="#1f44b4"/>
<line x1="209" y1="91.5" x2="209" y2="102.5" stroke="#1f44b4" stroke-width="1.2"/>
<line x1="207" y1="91.5" x2="211" y2="91.5" stroke="#1f44b4" stroke-width="1.2"/>
<line x1="207" y1="102.5" x2="211" y2="102.5" stroke="#1f44b4" stroke-width="1.2"/>
<rect x="207.5" y="95.5" width="3" height="3" fill="#1f44b4"/>
<line x1="213.7" y1="110.3" x2="213.7" y2="122.3" stroke="#1f44b4" stroke-width="1.2"/>
<line x1="211.7" y1="110.3" x2="215.7" y2="110.3" stroke="#1f44b4" stroke-width="1.2"/>
<line x1="211.7" y1="122.3" x2="215.7" y2="122.3" stroke="#1f44b4" stroke-width="1.2"/>
<rect x="212.2" y="114.8" width="3" height="3" fill="#1f44b4"/>
<line x1="217.6" y1="116.7" x2="217.6" y2="128.7" stroke="#1f44b4" stroke-width="1.2"/>
<line x1="215.6" y1="116.7" x2="219.6" y2="116.7" stroke="#1f44b4" stroke-width="1.2"/>
<line x1="215.6" y1="128.7" x2="219.6" y2="128.7" stroke="#1f44b4" stroke-width="1.2"/>
<rect x="216.1" y="121.2" width="3" height="3" fill="#1f44b4"/>
<polyline points="205.1,99 215.3,91.9 225.2,90.7 235.4,99.9 245.9,109.4 256.2,109.4 265.9,121.3" fill="none" stroke="#24b034" stroke-width="1.5" stroke-linejoin="round"/>
<line x1="205.1" y1="97.5" x2="205.1" y2="100.5" stroke="#24b034" stroke-width="1.2"/>
<line x1="203.1" y1="97.5" x2="207.1" y2="97.5" stroke="#24b034" stroke-width="1.2"/>
<line x1="203.1" y1="100.5" x2="207.1" y2="100.5" stroke="#24b034" stroke-width="1.2"/>
<rect x="203.6" y="97.5" width="3" height="3" fill="#24b034"/>
<line x1="215.3" y1="84.9" x2="215.3" y2="98.9" stroke="#24b034" stroke-width="1.2"/>
<line x1="213.3" y1="84.9" x2="217.3" y2="84.9" stroke="#24b034" stroke-width="1.2"/>
<line x1="213.3" y1="98.9" x2="217.3" y2="98.9" stroke="#24b034" stroke-width="1.2"/>
<rect x="213.8" y="90.4" width="3" height="3" fill="#24b034"/>
<line x1="225.2" y1="87.7" x2="225.2" y2="93.7" stroke="#24b034" stroke-width="1.2"/>
<line x1="223.2" y1="87.7" x2="227.2" y2="87.7" stroke="#24b034" stroke-width="1.2"/>
<line x1="223.2" y1="93.7" x2="227.2" y2="93.7" stroke="#24b034" stroke-width="1.2"/>
<rect x="223.7" y="89.2" width="3" height="3" fill="#24b034"/>
<line x1="235.4" y1="96.4" x2="235.4" y2="103.4" stroke="#24b034" stroke-width="1.2"/>
<line x1="233.4" y1="96.4" x2="237.4" y2="96.4" stroke="#24b034" stroke-width="1.2"/>
<line x1="233.4" y1="103.4" x2="237.4" y2="103.4" stroke="#24b034" stroke-width="1.2"/>
<rect x="233.9" y="98.4" width="3" height="3" fill="#24b034"/>
<line x1="245.9" y1="106.4" x2="245.9" y2="112.4" stroke="#24b034" stroke-width="1.2"/>
<line x1="243.9" y1="106.4" x2="247.9" y2="106.4" stroke="#24b034" stroke-width="1.2"/>
<line x1="243.9" y1="112.4" x2="247.9" y2="112.4" stroke="#24b034" stroke-width="1.2"/>
<rect x="244.4" y="107.9" width="3" height="3" fill="#24b034"/>
<line x1="256.2" y1="105.9" x2="256.2" y2="112.9" stroke="#24b034" stroke-width="1.2"/>
<line x1="254.2" y1="105.9" x2="258.2" y2="105.9" stroke="#24b034" stroke-width="1.2"/>
<line x1="254.2" y1="112.9" x2="258.2" y2="112.9" stroke="#24b034" stroke-width="1.2"/>
<rect x="254.7" y="107.9" width="3" height="3" fill="#24b034"/>
<line x1="265.9" y1="118.3" x2="265.9" y2="124.3" stroke="#24b034" stroke-width="1.2"/>
<line x1="263.9" y1="118.3" x2="267.9" y2="118.3" stroke="#24b034" stroke-width="1.2"/>
<line x1="263.9" y1="124.3" x2="267.9" y2="124.3" stroke="#24b034" stroke-width="1.2"/>
<rect x="264.4" y="119.8" width="3" height="3" fill="#24b034"/>
<polyline points="205.1,100.8 265.9,89.2" fill="none" stroke="#f01e28" stroke-width="1.5" stroke-linejoin="round"/>
<line x1="205.1" y1="97.3" x2="205.1" y2="104.3" stroke="#f01e28" stroke-width="1.2"/>
<line x1="203.1" y1="97.3" x2="207.1" y2="97.3" stroke="#f01e28" stroke-width="1.2"/>
<line x1="203.1" y1="104.3" x2="207.1" y2="104.3" stroke="#f01e28" stroke-width="1.2"/>
<rect x="203.6" y="99.3" width="3" height="3" fill="#f01e28"/>
<line x1="265.9" y1="86.7" x2="265.9" y2="91.7" stroke="#f01e28" stroke-width="1.2"/>
<line x1="263.9" y1="86.7" x2="267.9" y2="86.7" stroke="#f01e28" stroke-width="1.2"/>
<line x1="263.9" y1="91.7" x2="267.9" y2="91.7" stroke="#f01e28" stroke-width="1.2"/>
<rect x="264.4" y="87.7" width="3" height="3" fill="#f01e28"/>
<polyline points="289.3,81.2 300.5,98.8 312,105.2 323.2,114" fill="none" stroke="#f01e28" stroke-width="1.5" stroke-linejoin="round"/>
<line x1="289.3" y1="74.2" x2="289.3" y2="88.2" stroke="#f01e28" stroke-width="1.2"/>
<line x1="287.3" y1="74.2" x2="291.3" y2="74.2" stroke="#f01e28" stroke-width="1.2"/>
<line x1="287.3" y1="88.2" x2="291.3" y2="88.2" stroke="#f01e28" stroke-width="1.2"/>
<rect x="287.8" y="79.7" width="3" height="3" fill="#f01e28"/>
<line x1="300.5" y1="93.8" x2="300.5" y2="103.8" stroke="#f01e28" stroke-width="1.2"/>
<line x1="298.5" y1="93.8" x2="302.5" y2="93.8" stroke="#f01e28" stroke-width="1.2"/>
<line x1="298.5" y1="103.8" x2="302.5" y2="103.8" stroke="#f01e28" stroke-width="1.2"/>
<rect x="299" y="97.3" width="3" height="3" fill="#f01e28"/>
<line x1="312" y1="102.7" x2="312" y2="107.7" stroke="#f01e28" stroke-width="1.2"/>
<line x1="310" y1="102.7" x2="314" y2="102.7" stroke="#f01e28" stroke-width="1.2"/>
<line x1="310" y1="107.7" x2="314" y2="107.7" stroke="#f01e28" stroke-width="1.2"/>
<rect x="310.5" y="103.7" width="3" height="3" fill="#f01e28"/>
<line x1="323.2" y1="111.5" x2="323.2" y2="116.5" stroke="#f01e28" stroke-width="1.2"/>
<line x1="321.2" y1="111.5" x2="325.2" y2="111.5" stroke="#f01e28" stroke-width="1.2"/>
<line x1="321.2" y1="116.5" x2="325.2" y2="116.5" stroke="#f01e28" stroke-width="1.2"/>
<rect x="321.7" y="112.5" width="3" height="3" fill="#f01e28"/>
<polyline points="265.9,89.2 277,86.9" fill="none" stroke="#f01e28" stroke-width="1.5" stroke-linejoin="round"/>
<polyline points="281,86.3 289.3,81.2" fill="none" stroke="#f01e28" stroke-width="1.5" stroke-linejoin="round"/>
<text x="209" y="87.3" font-family="Liberation Sans, sans-serif" font-size="3.8" font-weight="normal" text-anchor="middle" fill="#555">c</text>
<text x="213.7" y="106.9" font-family="Liberation Sans, sans-serif" font-size="3.8" font-weight="normal" text-anchor="middle" fill="#555">b</text>
<text x="217.6" y="112.3" font-family="Liberation Sans, sans-serif" font-size="3.8" font-weight="normal" text-anchor="middle" fill="#555">a</text>
<text x="215.3" y="80.8" font-family="Liberation Sans, sans-serif" font-size="3.8" font-weight="normal" text-anchor="middle" fill="#555">d</text>
<text x="225.2" y="84.3" font-family="Liberation Sans, sans-serif" font-size="3.8" font-weight="normal" text-anchor="middle" fill="#555">d</text>
<text x="235.4" y="92.8" font-family="Liberation Sans, sans-serif" font-size="3.8" font-weight="normal" text-anchor="middle" fill="#555">c</text>
<text x="202.4" y="86.3" font-family="Liberation Sans, sans-serif" font-size="3.8" font-weight="normal" text-anchor="middle" fill="#555">c</text>
<text x="202.4" y="98.8" font-family="Liberation Sans, sans-serif" font-size="3.8" font-weight="normal" text-anchor="middle" fill="#555">c</text>
<text x="202.4" y="104.3" font-family="Liberation Sans, sans-serif" font-size="3.8" font-weight="normal" text-anchor="middle" fill="#555">b</text>
<text x="245.9" y="102.3" font-family="Liberation Sans, sans-serif" font-size="3.8" font-weight="normal" text-anchor="middle" fill="#555">b</text>
<text x="256.2" y="102.3" font-family="Liberation Sans, sans-serif" font-size="3.8" font-weight="normal" text-anchor="middle" fill="#555">b</text>
<text x="265.9" y="115.3" font-family="Liberation Sans, sans-serif" font-size="3.8" font-weight="normal" text-anchor="middle" fill="#555">a</text>
<text x="265.9" y="98" font-family="Liberation Sans, sans-serif" font-size="3.8" font-weight="normal" text-anchor="middle" fill="#555">d</text>
<text x="289.3" y="90.8" font-family="Liberation Sans, sans-serif" font-size="3.8" font-weight="normal" text-anchor="middle" fill="#555">e</text>
<text x="300.5" y="108.6" font-family="Liberation Sans, sans-serif" font-size="3.8" font-weight="normal" text-anchor="middle" fill="#555">c</text>
<text x="312" y="112.6" font-family="Liberation Sans, sans-serif" font-size="3.8" font-weight="normal" text-anchor="middle" fill="#555">b</text>
<text x="323.2" y="121.2" font-family="Liberation Sans, sans-serif" font-size="3.8" font-weight="normal" text-anchor="middle" fill="#555">a</text>
<text x="222.5" y="42" font-family="Liberation Sans, sans-serif" font-size="3" font-weight="normal" text-anchor="middle" fill="#555">cd</text>
<text x="233.6" y="35.4" font-family="Liberation Sans, sans-serif" font-size="3" font-weight="normal" text-anchor="middle" fill="#555">d</text>
<text x="244.3" y="29" font-family="Liberation Sans, sans-serif" font-size="3" font-weight="normal" text-anchor="middle" fill="#555">d</text>
<text x="255.2" y="44.9" font-family="Liberation Sans, sans-serif" font-size="3" font-weight="normal" text-anchor="middle" fill="#555">c</text>
<text x="266.2" y="56.8" font-family="Liberation Sans, sans-serif" font-size="3" font-weight="normal" text-anchor="middle" fill="#555">b</text>
<text x="276.8" y="56.8" font-family="Liberation Sans, sans-serif" font-size="3" font-weight="normal" text-anchor="middle" fill="#555">a</text>
<line x1="222.4" y1="19" x2="222.4" y2="61.3" stroke="#808080" stroke-width="0.8"/>
<line x1="221.4" y1="19" x2="222.4" y2="19" stroke="#808080" stroke-width="0.8"/>
<text x="221" y="20.3" font-family="Liberation Sans, sans-serif" font-size="3.6" font-weight="bold" text-anchor="end" fill="#333">6</text>
<line x1="221.4" y1="33.1" x2="222.4" y2="33.1" stroke="#808080" stroke-width="0.8"/>
<text x="221" y="34.4" font-family="Liberation Sans, sans-serif" font-size="3.6" font-weight="bold" text-anchor="end" fill="#333">4</text>
<line x1="221.4" y1="47.2" x2="222.4" y2="47.2" stroke="#808080" stroke-width="0.8"/>
<text x="221" y="48.5" font-family="Liberation Sans, sans-serif" font-size="3.6" font-weight="bold" text-anchor="end" fill="#333">2</text>
<line x1="221.4" y1="61.3" x2="222.4" y2="61.3" stroke="#808080" stroke-width="0.8"/>
<text x="221" y="62.6" font-family="Liberation Sans, sans-serif" font-size="3.6" font-weight="bold" text-anchor="end" fill="#333">0</text>
<line x1="222.4" y1="61.3" x2="287.6" y2="61.3" stroke="#808080" stroke-width="0.8"/>
<line x1="222.5" y1="61.3" x2="222.5" y2="62.5" stroke="#808080" stroke-width="0.8"/>
<text x="222.5" y="66.4" font-family="Liberation Sans, sans-serif" font-size="3.6" font-weight="bold" text-anchor="middle" fill="#333">0</text>
<line x1="233.35" y1="61.3" x2="233.35" y2="62.5" stroke="#808080" stroke-width="0.8"/>
<text x="233.35" y="66.4" font-family="Liberation Sans, sans-serif" font-size="3.6" font-weight="bold" text-anchor="middle" fill="#333">5</text>
<line x1="244.2" y1="61.3" x2="244.2" y2="62.5" stroke="#808080" stroke-width="0.8"/>
<text x="244.2" y="66.4" font-family="Liberation Sans, sans-serif" font-size="3.6" font-weight="bold" text-anchor="middle" fill="#333">10</text>
<line x1="255.05" y1="61.3" x2="255.05" y2="62.5" stroke="#808080" stroke-width="0.8"/>
<text x="255.05" y="66.4" font-family="Liberation Sans, sans-serif" font-size="3.6" font-weight="bold" text-anchor="middle" fill="#333">15</text>
<line x1="265.9" y1="61.3" x2="265.9" y2="62.5" stroke="#808080" stroke-width="0.8"/>
<text x="265.9" y="66.4" font-family="Liberation Sans, sans-serif" font-size="3.6" font-weight="bold" text-anchor="middle" fill="#333">20</text>
<line x1="276.75" y1="61.3" x2="276.75" y2="62.5" stroke="#808080" stroke-width="0.8"/>
<text x="276.75" y="66.4" font-family="Liberation Sans, sans-serif" font-size="3.6" font-weight="bold" text-anchor="middle" fill="#333">25</text>
<line x1="287.6" y1="61.3" x2="287.6" y2="62.5" stroke="#808080" stroke-width="0.8"/>
<text x="287.6" y="66.4" font-family="Liberation Sans, sans-serif" font-size="3.6" font-weight="bold" text-anchor="middle" fill="#333">30</text>
<text x="237.6" y="72.5" font-family="Liberation Sans, sans-serif" font-size="4.75" font-weight="bold" text-anchor="start" fill="#1a1a1a" stroke="#1a1a1a" stroke-width="0.15">Storage time (d)</text>
<text x="213" y="38" font-family="Liberation Sans, sans-serif" font-size="4.2" font-weight="bold" text-anchor="middle" fill="#1a1a1a" transform="rotate(-90 213 38)" stroke="#1a1a1a" stroke-width="0.12">a*</text>
<polyline points="222.5,35.2 233.4,29.7 244.2,24.9 255.1,36.8 265.9,47.8 276.8,52" fill="none" stroke="#ae78d8" stroke-width="0.7" stroke-linejoin="round"/>
<line x1="222.5" y1="33.2" x2="222.5" y2="37.2" stroke="#8a48c0" stroke-width="0.75"/>
<line x1="221.4" y1="33.2" x2="223.6" y2="33.2" stroke="#8a48c0" stroke-width="0.75"/>
<line x1="221.4" y1="37.2" x2="223.6" y2="37.2" stroke="#8a48c0" stroke-width="0.75"/>
<rect x="221.7" y="34.4" width="1.6" height="1.6" fill="#8a48c0"/>
<line x1="233.4" y1="27.2" x2="233.4" y2="32.2" stroke="#8a48c0" stroke-width="0.75"/>
<line x1="232.3" y1="27.2" x2="234.5" y2="27.2" stroke="#8a48c0" stroke-width="0.75"/>
<line x1="232.3" y1="32.2" x2="234.5" y2="32.2" stroke="#8a48c0" stroke-width="0.75"/>
<rect x="232.6" y="28.9" width="1.6" height="1.6" fill="#8a48c0"/>
<line x1="244.2" y1="22.9" x2="244.2" y2="26.9" stroke="#8a48c0" stroke-width="0.75"/>
<line x1="243.1" y1="22.9" x2="245.3" y2="22.9" stroke="#8a48c0" stroke-width="0.75"/>
<line x1="243.1" y1="26.9" x2="245.3" y2="26.9" stroke="#8a48c0" stroke-width="0.75"/>
<rect x="243.4" y="24.1" width="1.6" height="1.6" fill="#8a48c0"/>
<line x1="255.1" y1="33.8" x2="255.1" y2="39.8" stroke="#8a48c0" stroke-width="0.75"/>
<line x1="254" y1="33.8" x2="256.2" y2="33.8" stroke="#8a48c0" stroke-width="0.75"/>
<line x1="254" y1="39.8" x2="256.2" y2="39.8" stroke="#8a48c0" stroke-width="0.75"/>
<rect x="254.3" y="36" width="1.6" height="1.6" fill="#8a48c0"/>
<line x1="265.9" y1="41.8" x2="265.9" y2="53.8" stroke="#8a48c0" stroke-width="0.75"/>
<line x1="264.8" y1="41.8" x2="267" y2="41.8" stroke="#8a48c0" stroke-width="0.75"/>
<line x1="264.8" y1="53.8" x2="267" y2="53.8" stroke="#8a48c0" stroke-width="0.75"/>
<rect x="265.1" y="47" width="1.6" height="1.6" fill="#8a48c0"/>
<line x1="276.8" y1="50.8" x2="276.8" y2="53.2" stroke="#8a48c0" stroke-width="0.75"/>
<line x1="275.7" y1="50.8" x2="277.9" y2="50.8" stroke="#8a48c0" stroke-width="0.75"/>
<line x1="275.7" y1="53.2" x2="277.9" y2="53.2" stroke="#8a48c0" stroke-width="0.75"/>
<rect x="276" y="51.2" width="1.6" height="1.6" fill="#8a48c0"/>
<text x="377.4" y="19.5" font-family="Liberation Serif, serif" font-size="10.5" font-weight="normal" text-anchor="start" fill="#1a1a1a">C</text>
<rect x="433" y="12.5" width="5.6" height="1.1" fill="#1a1a1a"/>
<g font-family="Liberation Sans, sans-serif" font-size="8.3" font-weight="bold" fill="#1a1a1a" stroke="#1a1a1a" stroke-width="0.25">
<text x="439.6" y="16.1">2</text>
<text x="447.8" y="16.1">C</text>
</g>
<circle cx="447.3" cy="11.1" r="0.8" fill="none" stroke="#1a1a1a" stroke-width="0.6"/>
<line x1="391.6" y1="43.5" x2="391.6" y2="129.3" stroke="#888" stroke-width="1.3"/>
<line x1="389.6" y1="43.5" x2="391.6" y2="43.5" stroke="#888" stroke-width="1.3"/>
<text x="388.9" y="45.66" font-family="Liberation Sans, sans-serif" font-size="6" font-weight="bold" text-anchor="end" fill="#1a1a1a" stroke="#1a1a1a" stroke-width="0.12">6</text>
<line x1="389.6" y1="57.8" x2="391.6" y2="57.8" stroke="#888" stroke-width="1.3"/>
<text x="388.9" y="59.96" font-family="Liberation Sans, sans-serif" font-size="6" font-weight="bold" text-anchor="end" fill="#1a1a1a" stroke="#1a1a1a" stroke-width="0.12">5</text>
<line x1="389.6" y1="72.1" x2="391.6" y2="72.1" stroke="#888" stroke-width="1.3"/>
<text x="388.9" y="74.26" font-family="Liberation Sans, sans-serif" font-size="6" font-weight="bold" text-anchor="end" fill="#1a1a1a" stroke="#1a1a1a" stroke-width="0.12">4</text>
<line x1="389.6" y1="86.4" x2="391.6" y2="86.4" stroke="#888" stroke-width="1.3"/>
<text x="388.9" y="88.56" font-family="Liberation Sans, sans-serif" font-size="6" font-weight="bold" text-anchor="end" fill="#1a1a1a" stroke="#1a1a1a" stroke-width="0.12">3</text>
<line x1="389.6" y1="100.7" x2="391.6" y2="100.7" stroke="#888" stroke-width="1.3"/>
<text x="388.9" y="102.86" font-family="Liberation Sans, sans-serif" font-size="6" font-weight="bold" text-anchor="end" fill="#1a1a1a" stroke="#1a1a1a" stroke-width="0.12">2</text>
<line x1="389.6" y1="115" x2="391.6" y2="115" stroke="#888" stroke-width="1.3"/>
<text x="388.9" y="117.16" font-family="Liberation Sans, sans-serif" font-size="6" font-weight="bold" text-anchor="end" fill="#1a1a1a" stroke="#1a1a1a" stroke-width="0.12">1</text>
<line x1="389.6" y1="129.3" x2="391.6" y2="129.3" stroke="#888" stroke-width="1.3"/>
<text x="388.9" y="131.46" font-family="Liberation Sans, sans-serif" font-size="6" font-weight="bold" text-anchor="end" fill="#1a1a1a" stroke="#1a1a1a" stroke-width="0.12">0</text>
<line x1="391.6" y1="129.3" x2="457.8" y2="129.3" stroke="#888" stroke-width="1.3"/>
<line x1="463" y1="129.3" x2="511.3" y2="129.3" stroke="#888" stroke-width="1.3"/>
<line x1="457.8" y1="127.8" x2="457.8" y2="130.8" stroke="#888" stroke-width="1.17"/>
<line x1="463" y1="127.8" x2="463" y2="130.8" stroke="#888" stroke-width="1.17"/>
<line x1="391.6" y1="129.3" x2="391.6" y2="131.6" stroke="#888" stroke-width="1.3"/>
<text x="393.9" y="135.9" font-family="Liberation Sans, sans-serif" font-size="6.3" font-weight="bold" text-anchor="end" fill="#1a1a1a" transform="rotate(-45 393.9 135.9)" stroke="#1a1a1a" stroke-width="0.1">0</text>
<line x1="401.06" y1="129.3" x2="401.06" y2="131.6" stroke="#888" stroke-width="1.3"/>
<text x="403.36" y="135.9" font-family="Liberation Sans, sans-serif" font-size="6.3" font-weight="bold" text-anchor="end" fill="#1a1a1a" transform="rotate(-45 403.36 135.9)" stroke="#1a1a1a" stroke-width="0.1">12</text>
<line x1="410.51" y1="129.3" x2="410.51" y2="131.6" stroke="#888" stroke-width="1.3"/>
<text x="412.81" y="135.9" font-family="Liberation Sans, sans-serif" font-size="6.3" font-weight="bold" text-anchor="end" fill="#1a1a1a" transform="rotate(-45 412.81 135.9)" stroke="#1a1a1a" stroke-width="0.1">24</text>
<line x1="419.97" y1="129.3" x2="419.97" y2="131.6" stroke="#888" stroke-width="1.3"/>
<text x="422.27" y="135.9" font-family="Liberation Sans, sans-serif" font-size="6.3" font-weight="bold" text-anchor="end" fill="#1a1a1a" transform="rotate(-45 422.27 135.9)" stroke="#1a1a1a" stroke-width="0.1">36</text>
<line x1="429.43" y1="129.3" x2="429.43" y2="131.6" stroke="#888" stroke-width="1.3"/>
<text x="431.73" y="135.9" font-family="Liberation Sans, sans-serif" font-size="6.3" font-weight="bold" text-anchor="end" fill="#1a1a1a" transform="rotate(-45 431.73 135.9)" stroke="#1a1a1a" stroke-width="0.1">48</text>
<line x1="438.89" y1="129.3" x2="438.89" y2="131.6" stroke="#888" stroke-width="1.3"/>
<text x="441.19" y="135.9" font-family="Liberation Sans, sans-serif" font-size="6.3" font-weight="bold" text-anchor="end" fill="#1a1a1a" transform="rotate(-45 441.19 135.9)" stroke="#1a1a1a" stroke-width="0.1">60</text>
<line x1="448.34" y1="129.3" x2="448.34" y2="131.6" stroke="#888" stroke-width="1.3"/>
<text x="450.64" y="135.9" font-family="Liberation Sans, sans-serif" font-size="6.3" font-weight="bold" text-anchor="end" fill="#1a1a1a" transform="rotate(-45 450.64 135.9)" stroke="#1a1a1a" stroke-width="0.1">72</text>
<line x1="457.8" y1="129.3" x2="457.8" y2="131.6" stroke="#888" stroke-width="1.3"/>
<text x="460.1" y="135.9" font-family="Liberation Sans, sans-serif" font-size="6.3" font-weight="bold" text-anchor="end" fill="#1a1a1a" transform="rotate(-45 460.1 135.9)" stroke="#1a1a1a" stroke-width="0.1">84</text>
<line x1="469.9" y1="129.3" x2="469.9" y2="131.6" stroke="#888" stroke-width="1.3"/>
<text x="472.2" y="135.9" font-family="Liberation Sans, sans-serif" font-size="6.3" font-weight="bold" text-anchor="end" fill="#1a1a1a" transform="rotate(-45 472.2 135.9)" stroke="#1a1a1a" stroke-width="0.1">144</text>
<line x1="480.25" y1="129.3" x2="480.25" y2="131.6" stroke="#888" stroke-width="1.3"/>
<text x="482.55" y="135.9" font-family="Liberation Sans, sans-serif" font-size="6.3" font-weight="bold" text-anchor="end" fill="#1a1a1a" transform="rotate(-45 482.55 135.9)" stroke="#1a1a1a" stroke-width="0.1">216</text>
<line x1="490.6" y1="129.3" x2="490.6" y2="131.6" stroke="#888" stroke-width="1.3"/>
<text x="492.9" y="135.9" font-family="Liberation Sans, sans-serif" font-size="6.3" font-weight="bold" text-anchor="end" fill="#1a1a1a" transform="rotate(-45 492.9 135.9)" stroke="#1a1a1a" stroke-width="0.1">288</text>
<line x1="500.95" y1="129.3" x2="500.95" y2="131.6" stroke="#888" stroke-width="1.3"/>
<text x="503.25" y="135.9" font-family="Liberation Sans, sans-serif" font-size="6.3" font-weight="bold" text-anchor="end" fill="#1a1a1a" transform="rotate(-45 503.25 135.9)" stroke="#1a1a1a" stroke-width="0.1">360</text>
<line x1="511.3" y1="129.3" x2="511.3" y2="131.6" stroke="#888" stroke-width="1.3"/>
<text x="513.6" y="135.9" font-family="Liberation Sans, sans-serif" font-size="6.3" font-weight="bold" text-anchor="end" fill="#1a1a1a" transform="rotate(-45 513.6 135.9)" stroke="#1a1a1a" stroke-width="0.1">432</text>
<text x="424" y="154" font-family="Liberation Sans, sans-serif" font-size="8.2" font-weight="bold" text-anchor="start" fill="#1a1a1a" stroke="#1a1a1a" stroke-width="0.35" textLength="56" lengthAdjust="spacingAndGlyphs">Storage time (h)</text>
<text x="381.6" y="85.6" font-family="Liberation Sans, sans-serif" font-size="7.9" font-weight="bold" text-anchor="middle" fill="#1a1a1a" transform="rotate(-90 381.6 85.6)" stroke="#1a1a1a" stroke-width="0.35">b<tspan font-size="5.5" dy="-1.8">*</tspan></text>
<polyline points="391.6,111.6 448.5,104.1" fill="none" stroke="#f01e28" stroke-width="1.3" stroke-linejoin="round"/>
<line x1="391.6" y1="109.6" x2="391.6" y2="113.6" stroke="#f01e28" stroke-width="1.1"/>
<line x1="389.7" y1="109.6" x2="393.5" y2="109.6" stroke="#f01e28" stroke-width="1.1"/>
<line x1="389.7" y1="113.6" x2="393.5" y2="113.6" stroke="#f01e28" stroke-width="1.1"/>
<rect x="390.2" y="110.2" width="2.8" height="2.8" fill="#f01e28"/>
<line x1="448.5" y1="95.5" x2="448.5" y2="112.7" stroke="#f01e28" stroke-width="1.1"/>
<line x1="446.6" y1="95.5" x2="450.4" y2="95.5" stroke="#f01e28" stroke-width="1.1"/>
<line x1="446.6" y1="112.7" x2="450.4" y2="112.7" stroke="#f01e28" stroke-width="1.1"/>
<rect x="447.1" y="102.7" width="2.8" height="2.8" fill="#f01e28"/>
<polyline points="469.7,100.2 480.5,112.7 490.9,92.8 501.2,82.2" fill="none" stroke="#f01e28" stroke-width="1.3" stroke-linejoin="round"/>
<line x1="469.7" y1="95.2" x2="469.7" y2="105.2" stroke="#f01e28" stroke-width="1.1"/>
<line x1="467.8" y1="95.2" x2="471.6" y2="95.2" stroke="#f01e28" stroke-width="1.1"/>
<line x1="467.8" y1="105.2" x2="471.6" y2="105.2" stroke="#f01e28" stroke-width="1.1"/>
<rect x="468.3" y="98.8" width="2.8" height="2.8" fill="#f01e28"/>
<line x1="480.5" y1="107.2" x2="480.5" y2="118.2" stroke="#f01e28" stroke-width="1.1"/>
<line x1="478.6" y1="107.2" x2="482.4" y2="107.2" stroke="#f01e28" stroke-width="1.1"/>
<line x1="478.6" y1="118.2" x2="482.4" y2="118.2" stroke="#f01e28" stroke-width="1.1"/>
<rect x="479.1" y="111.3" width="2.8" height="2.8" fill="#f01e28"/>
<line x1="490.9" y1="87.8" x2="490.9" y2="97.8" stroke="#f01e28" stroke-width="1.1"/>
<line x1="489" y1="87.8" x2="492.8" y2="87.8" stroke="#f01e28" stroke-width="1.1"/>
<line x1="489" y1="97.8" x2="492.8" y2="97.8" stroke="#f01e28" stroke-width="1.1"/>
<rect x="489.5" y="91.4" width="2.8" height="2.8" fill="#f01e28"/>
<line x1="501.2" y1="74.7" x2="501.2" y2="89.7" stroke="#f01e28" stroke-width="1.1"/>
<line x1="499.3" y1="74.7" x2="503.1" y2="74.7" stroke="#f01e28" stroke-width="1.1"/>
<line x1="499.3" y1="89.7" x2="503.1" y2="89.7" stroke="#f01e28" stroke-width="1.1"/>
<rect x="499.8" y="80.8" width="2.8" height="2.8" fill="#f01e28"/>
<polyline points="391.6,117 401.4,100.5 410.8,94.9 420.2,101.6 429.8,104.7 439,90.8 448.5,77.7" fill="none" stroke="#24b034" stroke-width="1.3" stroke-linejoin="round"/>
<line x1="391.6" y1="115.5" x2="391.6" y2="118.5" stroke="#24b034" stroke-width="1.1"/>
<line x1="389.7" y1="115.5" x2="393.5" y2="115.5" stroke="#24b034" stroke-width="1.1"/>
<line x1="389.7" y1="118.5" x2="393.5" y2="118.5" stroke="#24b034" stroke-width="1.1"/>
<rect x="390.2" y="115.6" width="2.8" height="2.8" fill="#24b034"/>
<line x1="401.4" y1="96.5" x2="401.4" y2="104.5" stroke="#24b034" stroke-width="1.1"/>
<line x1="399.5" y1="96.5" x2="403.3" y2="96.5" stroke="#24b034" stroke-width="1.1"/>
<line x1="399.5" y1="104.5" x2="403.3" y2="104.5" stroke="#24b034" stroke-width="1.1"/>
<rect x="400" y="99.1" width="2.8" height="2.8" fill="#24b034"/>
<line x1="410.8" y1="91.9" x2="410.8" y2="97.9" stroke="#24b034" stroke-width="1.1"/>
<line x1="408.9" y1="91.9" x2="412.7" y2="91.9" stroke="#24b034" stroke-width="1.1"/>
<line x1="408.9" y1="97.9" x2="412.7" y2="97.9" stroke="#24b034" stroke-width="1.1"/>
<rect x="409.4" y="93.5" width="2.8" height="2.8" fill="#24b034"/>
<line x1="420.2" y1="93.3" x2="420.2" y2="109.9" stroke="#24b034" stroke-width="1.1"/>
<line x1="418.3" y1="93.3" x2="422.1" y2="93.3" stroke="#24b034" stroke-width="1.1"/>
<line x1="418.3" y1="109.9" x2="422.1" y2="109.9" stroke="#24b034" stroke-width="1.1"/>
<rect x="418.8" y="100.2" width="2.8" height="2.8" fill="#24b034"/>
<line x1="429.8" y1="99" x2="429.8" y2="110.4" stroke="#24b034" stroke-width="1.1"/>
<line x1="427.9" y1="99" x2="431.7" y2="99" stroke="#24b034" stroke-width="1.1"/>
<line x1="427.9" y1="110.4" x2="431.7" y2="110.4" stroke="#24b034" stroke-width="1.1"/>
<rect x="428.4" y="103.3" width="2.8" height="2.8" fill="#24b034"/>
<line x1="439" y1="81.8" x2="439" y2="99.8" stroke="#24b034" stroke-width="1.1"/>
<line x1="437.1" y1="81.8" x2="440.9" y2="81.8" stroke="#24b034" stroke-width="1.1"/>
<line x1="437.1" y1="99.8" x2="440.9" y2="99.8" stroke="#24b034" stroke-width="1.1"/>
<rect x="437.6" y="89.4" width="2.8" height="2.8" fill="#24b034"/>
<line x1="448.5" y1="72.5" x2="448.5" y2="82.9" stroke="#24b034" stroke-width="1.1"/>
<line x1="446.6" y1="72.5" x2="450.4" y2="72.5" stroke="#24b034" stroke-width="1.1"/>
<line x1="446.6" y1="82.9" x2="450.4" y2="82.9" stroke="#24b034" stroke-width="1.1"/>
<rect x="447.1" y="76.3" width="2.8" height="2.8" fill="#24b034"/>
<polyline points="391.6,107 396,94.4 399.6,93.5 403.7,78.3" fill="none" stroke="#1f44b4" stroke-width="1.3" stroke-linejoin="round"/>
<line x1="391.6" y1="105" x2="391.6" y2="109" stroke="#1f44b4" stroke-width="1.1"/>
<line x1="389.7" y1="105" x2="393.5" y2="105" stroke="#1f44b4" stroke-width="1.1"/>
<line x1="389.7" y1="109" x2="393.5" y2="109" stroke="#1f44b4" stroke-width="1.1"/>
<rect x="390.2" y="105.6" width="2.8" height="2.8" fill="#1f44b4"/>
<line x1="396" y1="91.4" x2="396" y2="97.4" stroke="#1f44b4" stroke-width="1.1"/>
<line x1="394.1" y1="91.4" x2="397.9" y2="91.4" stroke="#1f44b4" stroke-width="1.1"/>
<line x1="394.1" y1="97.4" x2="397.9" y2="97.4" stroke="#1f44b4" stroke-width="1.1"/>
<rect x="394.6" y="93" width="2.8" height="2.8" fill="#1f44b4"/>
<line x1="399.6" y1="86.5" x2="399.6" y2="100.5" stroke="#1f44b4" stroke-width="1.1"/>
<line x1="397.7" y1="86.5" x2="401.5" y2="86.5" stroke="#1f44b4" stroke-width="1.1"/>
<line x1="397.7" y1="100.5" x2="401.5" y2="100.5" stroke="#1f44b4" stroke-width="1.1"/>
<rect x="398.2" y="92.1" width="2.8" height="2.8" fill="#1f44b4"/>
<line x1="403.7" y1="74.3" x2="403.7" y2="82.3" stroke="#1f44b4" stroke-width="1.1"/>
<line x1="401.8" y1="74.3" x2="405.6" y2="74.3" stroke="#1f44b4" stroke-width="1.1"/>
<line x1="401.8" y1="82.3" x2="405.6" y2="82.3" stroke="#1f44b4" stroke-width="1.1"/>
<rect x="402.3" y="76.9" width="2.8" height="2.8" fill="#1f44b4"/>
<polyline points="448.5,104.3 455.5,103.3" fill="none" stroke="#f01e28" stroke-width="1.3" stroke-linejoin="round"/>
<polyline points="459.2,102.8 469.7,100.2" fill="none" stroke="#f01e28" stroke-width="1.3" stroke-linejoin="round"/>
<text x="387.7" y="109" font-family="Liberation Sans, sans-serif" font-size="3.8" font-weight="normal" text-anchor="middle" fill="#555">a</text>
<text x="395.7" y="86.8" font-family="Liberation Sans, sans-serif" font-size="3.8" font-weight="normal" text-anchor="middle" fill="#555">b</text>
<text x="399.6" y="83.3" font-family="Liberation Sans, sans-serif" font-size="3.8" font-weight="normal" text-anchor="middle" fill="#555">b</text>
<text x="403.7" y="71.3" font-family="Liberation Sans, sans-serif" font-size="3.8" font-weight="normal" text-anchor="middle" fill="#555">c</text>
<text x="401.4" y="109" font-family="Liberation Sans, sans-serif" font-size="3.8" font-weight="normal" text-anchor="middle" fill="#555">bc</text>
<text x="410.8" y="103.7" font-family="Liberation Sans, sans-serif" font-size="3.8" font-weight="normal" text-anchor="middle" fill="#555">cd</text>
<text x="420.2" y="117" font-family="Liberation Sans, sans-serif" font-size="3.8" font-weight="normal" text-anchor="middle" fill="#555">b</text>
<text x="396" y="117.9" font-family="Liberation Sans, sans-serif" font-size="3.8" font-weight="normal" text-anchor="middle" fill="#555">a</text>
<text x="387.7" y="121.3" font-family="Liberation Sans, sans-serif" font-size="3.8" font-weight="normal" text-anchor="middle" fill="#555">a</text>
<text x="430.1" y="116.1" font-family="Liberation Sans, sans-serif" font-size="3.8" font-weight="normal" text-anchor="middle" fill="#555">b</text>
<text x="438.9" y="104" font-family="Liberation Sans, sans-serif" font-size="3.8" font-weight="normal" text-anchor="middle" fill="#555">a</text>
<text x="448.8" y="86.7" font-family="Liberation Sans, sans-serif" font-size="3.8" font-weight="normal" text-anchor="middle" fill="#555">e</text>
<text x="448.8" y="116.8" font-family="Liberation Sans, sans-serif" font-size="3.8" font-weight="normal" text-anchor="middle" fill="#555">b</text>
<text x="469.7" y="109.6" font-family="Liberation Sans, sans-serif" font-size="3.8" font-weight="normal" text-anchor="middle" fill="#555">b</text>
<text x="480.5" y="123.5" font-family="Liberation Sans, sans-serif" font-size="3.8" font-weight="normal" text-anchor="middle" fill="#555">a</text>
<text x="490.9" y="101.5" font-family="Liberation Sans, sans-serif" font-size="3.8" font-weight="normal" text-anchor="middle" fill="#555">c</text>
<text x="501.2" y="92.5" font-family="Liberation Sans, sans-serif" font-size="3.8" font-weight="normal" text-anchor="middle" fill="#555">d</text>
<text x="414.7" y="52.1" font-family="Liberation Sans, sans-serif" font-size="3" font-weight="normal" text-anchor="middle" fill="#555">a</text>
<text x="421.8" y="54.4" font-family="Liberation Sans, sans-serif" font-size="3" font-weight="normal" text-anchor="middle" fill="#555">a</text>
<text x="432" y="46.1" font-family="Liberation Sans, sans-serif" font-size="3" font-weight="normal" text-anchor="middle" fill="#555">b</text>
<text x="441.5" y="46.1" font-family="Liberation Sans, sans-serif" font-size="3" font-weight="normal" text-anchor="middle" fill="#555">b</text>
<text x="451" y="51.3" font-family="Liberation Sans, sans-serif" font-size="3" font-weight="normal" text-anchor="middle" fill="#555">ab</text>
<text x="461" y="31" font-family="Liberation Sans, sans-serif" font-size="3" font-weight="normal" text-anchor="middle" fill="#555">c</text>
<line x1="411.8" y1="17.92" x2="411.8" y2="56.5" stroke="#808080" stroke-width="0.8"/>
<line x1="410.8" y1="17.92" x2="411.8" y2="17.92" stroke="#808080" stroke-width="0.8"/>
<text x="410.4" y="19.11" font-family="Liberation Sans, sans-serif" font-size="3.3" font-weight="bold" text-anchor="end" fill="#333">6</text>
<line x1="410.8" y1="24.35" x2="411.8" y2="24.35" stroke="#808080" stroke-width="0.8"/>
<text x="410.4" y="25.54" font-family="Liberation Sans, sans-serif" font-size="3.3" font-weight="bold" text-anchor="end" fill="#333">5</text>
<line x1="410.8" y1="30.78" x2="411.8" y2="30.78" stroke="#808080" stroke-width="0.8"/>
<text x="410.4" y="31.97" font-family="Liberation Sans, sans-serif" font-size="3.3" font-weight="bold" text-anchor="end" fill="#333">4</text>
<line x1="410.8" y1="37.21" x2="411.8" y2="37.21" stroke="#808080" stroke-width="0.8"/>
<text x="410.4" y="38.4" font-family="Liberation Sans, sans-serif" font-size="3.3" font-weight="bold" text-anchor="end" fill="#333">3</text>
<line x1="410.8" y1="43.64" x2="411.8" y2="43.64" stroke="#808080" stroke-width="0.8"/>
<text x="410.4" y="44.83" font-family="Liberation Sans, sans-serif" font-size="3.3" font-weight="bold" text-anchor="end" fill="#333">2</text>
<line x1="410.8" y1="50.07" x2="411.8" y2="50.07" stroke="#808080" stroke-width="0.8"/>
<text x="410.4" y="51.26" font-family="Liberation Sans, sans-serif" font-size="3.3" font-weight="bold" text-anchor="end" fill="#333">1</text>
<line x1="410.8" y1="56.5" x2="411.8" y2="56.5" stroke="#808080" stroke-width="0.8"/>
<text x="410.4" y="57.69" font-family="Liberation Sans, sans-serif" font-size="3.3" font-weight="bold" text-anchor="end" fill="#333">0</text>
<line x1="411.8" y1="56.5" x2="470.8" y2="56.5" stroke="#808080" stroke-width="0.8"/>
<line x1="412.3" y1="56.5" x2="412.3" y2="57.7" stroke="#808080" stroke-width="0.8"/>
<text x="412.3" y="61.3" font-family="Liberation Sans, sans-serif" font-size="3.3" font-weight="bold" text-anchor="middle" fill="#333">0</text>
<line x1="422.05" y1="56.5" x2="422.05" y2="57.7" stroke="#808080" stroke-width="0.8"/>
<text x="422.05" y="61.3" font-family="Liberation Sans, sans-serif" font-size="3.3" font-weight="bold" text-anchor="middle" fill="#333">5</text>
<line x1="431.8" y1="56.5" x2="431.8" y2="57.7" stroke="#808080" stroke-width="0.8"/>
<text x="431.8" y="61.3" font-family="Liberation Sans, sans-serif" font-size="3.3" font-weight="bold" text-anchor="middle" fill="#333">10</text>
<line x1="441.55" y1="56.5" x2="441.55" y2="57.7" stroke="#808080" stroke-width="0.8"/>
<text x="441.55" y="61.3" font-family="Liberation Sans, sans-serif" font-size="3.3" font-weight="bold" text-anchor="middle" fill="#333">15</text>
<line x1="451.3" y1="56.5" x2="451.3" y2="57.7" stroke="#808080" stroke-width="0.8"/>
<text x="451.3" y="61.3" font-family="Liberation Sans, sans-serif" font-size="3.3" font-weight="bold" text-anchor="middle" fill="#333">20</text>
<line x1="461.05" y1="56.5" x2="461.05" y2="57.7" stroke="#808080" stroke-width="0.8"/>
<text x="461.05" y="61.3" font-family="Liberation Sans, sans-serif" font-size="3.3" font-weight="bold" text-anchor="middle" fill="#333">25</text>
<line x1="470.8" y1="56.5" x2="470.8" y2="57.7" stroke="#808080" stroke-width="0.8"/>
<text x="470.8" y="61.3" font-family="Liberation Sans, sans-serif" font-size="3.3" font-weight="bold" text-anchor="middle" fill="#333">30</text>
<text x="425.4" y="66.2" font-family="Liberation Sans, sans-serif" font-size="4.3" font-weight="bold" text-anchor="start" fill="#1a1a1a" stroke="#1a1a1a" stroke-width="0.15">Storage time (d)</text>
<text x="407" y="36.5" font-family="Liberation Sans, sans-serif" font-size="4.2" font-weight="bold" text-anchor="middle" fill="#1a1a1a" transform="rotate(-90 407 36.5)" stroke="#1a1a1a" stroke-width="0.12">b*</text>
<polyline points="412.3,48.7 422,46.3 431.8,40.4 441.5,40.4 451.3,44.6 461,35.1" fill="none" stroke="#ae78d8" stroke-width="0.7" stroke-linejoin="round"/>
<line x1="412.3" y1="46.7" x2="412.3" y2="50.7" stroke="#8a48c0" stroke-width="0.75"/>
<line x1="411.2" y1="46.7" x2="413.4" y2="46.7" stroke="#8a48c0" stroke-width="0.75"/>
<line x1="411.2" y1="50.7" x2="413.4" y2="50.7" stroke="#8a48c0" stroke-width="0.75"/>
<rect x="411.5" y="47.9" width="1.6" height="1.6" fill="#8a48c0"/>
<line x1="422" y1="41.3" x2="422" y2="51.3" stroke="#8a48c0" stroke-width="0.75"/>
<line x1="420.9" y1="41.3" x2="423.1" y2="41.3" stroke="#8a48c0" stroke-width="0.75"/>
<line x1="420.9" y1="51.3" x2="423.1" y2="51.3" stroke="#8a48c0" stroke-width="0.75"/>
<rect x="421.2" y="45.5" width="1.6" height="1.6" fill="#8a48c0"/>
<line x1="431.8" y1="37.4" x2="431.8" y2="43.4" stroke="#8a48c0" stroke-width="0.75"/>
<line x1="430.7" y1="37.4" x2="432.9" y2="37.4" stroke="#8a48c0" stroke-width="0.75"/>
<line x1="430.7" y1="43.4" x2="432.9" y2="43.4" stroke="#8a48c0" stroke-width="0.75"/>
<rect x="431" y="39.6" width="1.6" height="1.6" fill="#8a48c0"/>
<line x1="441.5" y1="37.4" x2="441.5" y2="43.4" stroke="#8a48c0" stroke-width="0.75"/>
<line x1="440.4" y1="37.4" x2="442.6" y2="37.4" stroke="#8a48c0" stroke-width="0.75"/>
<line x1="440.4" y1="43.4" x2="442.6" y2="43.4" stroke="#8a48c0" stroke-width="0.75"/>
<rect x="440.7" y="39.6" width="1.6" height="1.6" fill="#8a48c0"/>
<line x1="451.3" y1="40.6" x2="451.3" y2="48.6" stroke="#8a48c0" stroke-width="0.75"/>
<line x1="450.2" y1="40.6" x2="452.4" y2="40.6" stroke="#8a48c0" stroke-width="0.75"/>
<line x1="450.2" y1="48.6" x2="452.4" y2="48.6" stroke="#8a48c0" stroke-width="0.75"/>
<rect x="450.5" y="43.8" width="1.6" height="1.6" fill="#8a48c0"/>
<line x1="461" y1="32.9" x2="461" y2="37.3" stroke="#8a48c0" stroke-width="0.75"/>
<line x1="459.9" y1="32.9" x2="462.1" y2="32.9" stroke="#8a48c0" stroke-width="0.75"/>
<line x1="459.9" y1="37.3" x2="462.1" y2="37.3" stroke="#8a48c0" stroke-width="0.75"/>
<rect x="460.2" y="34.3" width="1.6" height="1.6" fill="#8a48c0"/>
<text x="6.6" y="183.2" font-family="Liberation Serif, serif" font-size="10.5" font-weight="normal" text-anchor="start" fill="#1a1a1a">D</text>
<rect x="64.3" y="171.7" width="5.6" height="1.1" fill="#aaa"/>
<g font-family="Liberation Sans, sans-serif" font-size="8.3" font-weight="bold" fill="#1a1a1a" stroke="#1a1a1a" stroke-width="0.25">
<text x="70.9" y="175.3">2</text>
<text x="79.1" y="175.3">C</text>
</g>
<circle cx="78.6" cy="170.3" r="0.8" fill="none" stroke="#1a1a1a" stroke-width="0.6"/>
<line x1="29.4" y1="217.52" x2="29.4" y2="303.2" stroke="#333" stroke-width="1.2"/>
<line x1="27.4" y1="217.52" x2="29.4" y2="217.52" stroke="#333" stroke-width="1.2"/>
<text x="26.7" y="219.68" font-family="Liberation Sans, sans-serif" font-size="6" font-weight="bold" text-anchor="end" fill="#1a1a1a" stroke="#1a1a1a" stroke-width="0.12">9</text>
<line x1="27.4" y1="229.76" x2="29.4" y2="229.76" stroke="#333" stroke-width="1.2"/>
<text x="26.7" y="231.92" font-family="Liberation Sans, sans-serif" font-size="6" font-weight="bold" text-anchor="end" fill="#1a1a1a" stroke="#1a1a1a" stroke-width="0.12">8</text>
<line x1="27.4" y1="242" x2="29.4" y2="242" stroke="#333" stroke-width="1.2"/>
<text x="26.7" y="244.16" font-family="Liberation Sans, sans-serif" font-size="6" font-weight="bold" text-anchor="end" fill="#1a1a1a" stroke="#1a1a1a" stroke-width="0.12">7</text>
<line x1="27.4" y1="254.24" x2="29.4" y2="254.24" stroke="#333" stroke-width="1.2"/>
<text x="26.7" y="256.4" font-family="Liberation Sans, sans-serif" font-size="6" font-weight="bold" text-anchor="end" fill="#1a1a1a" stroke="#1a1a1a" stroke-width="0.12">6</text>
<line x1="27.4" y1="266.48" x2="29.4" y2="266.48" stroke="#333" stroke-width="1.2"/>
<text x="26.7" y="268.64" font-family="Liberation Sans, sans-serif" font-size="6" font-weight="bold" text-anchor="end" fill="#1a1a1a" stroke="#1a1a1a" stroke-width="0.12">5</text>
<line x1="27.4" y1="278.72" x2="29.4" y2="278.72" stroke="#333" stroke-width="1.2"/>
<text x="26.7" y="280.88" font-family="Liberation Sans, sans-serif" font-size="6" font-weight="bold" text-anchor="end" fill="#1a1a1a" stroke="#1a1a1a" stroke-width="0.12">4</text>
<line x1="27.4" y1="290.96" x2="29.4" y2="290.96" stroke="#333" stroke-width="1.2"/>
<text x="26.7" y="293.12" font-family="Liberation Sans, sans-serif" font-size="6" font-weight="bold" text-anchor="end" fill="#1a1a1a" stroke="#1a1a1a" stroke-width="0.12">3</text>
<line x1="27.4" y1="303.2" x2="29.4" y2="303.2" stroke="#333" stroke-width="1.2"/>
<text x="26.7" y="305.36" font-family="Liberation Sans, sans-serif" font-size="6" font-weight="bold" text-anchor="end" fill="#1a1a1a" stroke="#1a1a1a" stroke-width="0.12">2</text>
<line x1="29.4" y1="303.2" x2="100.5" y2="303.2" stroke="#333" stroke-width="1.2"/>
<line x1="105.2" y1="303.2" x2="152.8" y2="303.2" stroke="#333" stroke-width="1.2"/>
<line x1="100.5" y1="301.7" x2="100.5" y2="304.7" stroke="#333" stroke-width="1.08"/>
<line x1="105.2" y1="301.7" x2="105.2" y2="304.7" stroke="#333" stroke-width="1.08"/>
<line x1="29.4" y1="303.2" x2="29.4" y2="305.5" stroke="#333" stroke-width="1.2"/>
<text x="31.7" y="309.8" font-family="Liberation Sans, sans-serif" font-size="6" font-weight="bold" text-anchor="end" fill="#1a1a1a" transform="rotate(-45 31.7 309.8)" stroke="#1a1a1a" stroke-width="0.1">0</text>
<line x1="39.56" y1="303.2" x2="39.56" y2="305.5" stroke="#333" stroke-width="1.2"/>
<text x="41.86" y="309.8" font-family="Liberation Sans, sans-serif" font-size="6" font-weight="bold" text-anchor="end" fill="#1a1a1a" transform="rotate(-45 41.86 309.8)" stroke="#1a1a1a" stroke-width="0.1">12</text>
<line x1="49.71" y1="303.2" x2="49.71" y2="305.5" stroke="#333" stroke-width="1.2"/>
<text x="52.01" y="309.8" font-family="Liberation Sans, sans-serif" font-size="6" font-weight="bold" text-anchor="end" fill="#1a1a1a" transform="rotate(-45 52.01 309.8)" stroke="#1a1a1a" stroke-width="0.1">24</text>
<line x1="59.87" y1="303.2" x2="59.87" y2="305.5" stroke="#333" stroke-width="1.2"/>
<text x="62.17" y="309.8" font-family="Liberation Sans, sans-serif" font-size="6" font-weight="bold" text-anchor="end" fill="#1a1a1a" transform="rotate(-45 62.17 309.8)" stroke="#1a1a1a" stroke-width="0.1">36</text>
<line x1="70.03" y1="303.2" x2="70.03" y2="305.5" stroke="#333" stroke-width="1.2"/>
<text x="72.33" y="309.8" font-family="Liberation Sans, sans-serif" font-size="6" font-weight="bold" text-anchor="end" fill="#1a1a1a" transform="rotate(-45 72.33 309.8)" stroke="#1a1a1a" stroke-width="0.1">48</text>
<line x1="80.19" y1="303.2" x2="80.19" y2="305.5" stroke="#333" stroke-width="1.2"/>
<text x="82.49" y="309.8" font-family="Liberation Sans, sans-serif" font-size="6" font-weight="bold" text-anchor="end" fill="#1a1a1a" transform="rotate(-45 82.49 309.8)" stroke="#1a1a1a" stroke-width="0.1">60</text>
<line x1="90.34" y1="303.2" x2="90.34" y2="305.5" stroke="#333" stroke-width="1.2"/>
<text x="92.64" y="309.8" font-family="Liberation Sans, sans-serif" font-size="6" font-weight="bold" text-anchor="end" fill="#1a1a1a" transform="rotate(-45 92.64 309.8)" stroke="#1a1a1a" stroke-width="0.1">72</text>
<line x1="100.5" y1="303.2" x2="100.5" y2="305.5" stroke="#333" stroke-width="1.2"/>
<text x="102.8" y="309.8" font-family="Liberation Sans, sans-serif" font-size="6" font-weight="bold" text-anchor="end" fill="#1a1a1a" transform="rotate(-45 102.8 309.8)" stroke="#1a1a1a" stroke-width="0.1">84</text>
<line x1="112" y1="303.2" x2="112" y2="305.5" stroke="#333" stroke-width="1.2"/>
<text x="114.3" y="309.8" font-family="Liberation Sans, sans-serif" font-size="6" font-weight="bold" text-anchor="end" fill="#1a1a1a" transform="rotate(-45 114.3 309.8)" stroke="#1a1a1a" stroke-width="0.1">144</text>
<line x1="122.2" y1="303.2" x2="122.2" y2="305.5" stroke="#333" stroke-width="1.2"/>
<text x="124.5" y="309.8" font-family="Liberation Sans, sans-serif" font-size="6" font-weight="bold" text-anchor="end" fill="#1a1a1a" transform="rotate(-45 124.5 309.8)" stroke="#1a1a1a" stroke-width="0.1">216</text>
<line x1="132.4" y1="303.2" x2="132.4" y2="305.5" stroke="#333" stroke-width="1.2"/>
<text x="134.7" y="309.8" font-family="Liberation Sans, sans-serif" font-size="6" font-weight="bold" text-anchor="end" fill="#1a1a1a" transform="rotate(-45 134.7 309.8)" stroke="#1a1a1a" stroke-width="0.1">288</text>
<line x1="142.6" y1="303.2" x2="142.6" y2="305.5" stroke="#333" stroke-width="1.2"/>
<text x="144.9" y="309.8" font-family="Liberation Sans, sans-serif" font-size="6" font-weight="bold" text-anchor="end" fill="#1a1a1a" transform="rotate(-45 144.9 309.8)" stroke="#1a1a1a" stroke-width="0.1">360</text>
<line x1="152.8" y1="303.2" x2="152.8" y2="305.5" stroke="#333" stroke-width="1.2"/>
<text x="155.1" y="309.8" font-family="Liberation Sans, sans-serif" font-size="6" font-weight="bold" text-anchor="end" fill="#1a1a1a" transform="rotate(-45 155.1 309.8)" stroke="#1a1a1a" stroke-width="0.1">432</text>
<text x="61" y="328.6" font-family="Liberation Sans, sans-serif" font-size="8.6" font-weight="bold" text-anchor="start" fill="#1a1a1a" stroke="#1a1a1a" stroke-width="0.35" textLength="60" lengthAdjust="spacingAndGlyphs">Storage time (h)</text>
<text x="19.2" y="259.4" font-family="Liberation Sans, sans-serif" font-size="8.4" font-weight="bold" text-anchor="middle" fill="#1a1a1a" transform="rotate(-90 19.2 259.4)" stroke="#1a1a1a" stroke-width="0.35" textLength="60.5" lengthAdjust="spacingAndGlyphs">TVC (log CFU/g)</text>
<polyline points="29.4,278.9 90.1,268.7" fill="none" stroke="#f01e28" stroke-width="1" stroke-linejoin="round"/>
<line x1="29.4" y1="276.9" x2="29.4" y2="280.9" stroke="#f01e28" stroke-width="1.1"/>
<line x1="27.5" y1="276.9" x2="31.3" y2="276.9" stroke="#f01e28" stroke-width="1.1"/>
<line x1="27.5" y1="280.9" x2="31.3" y2="280.9" stroke="#f01e28" stroke-width="1.1"/>
<rect x="28.1" y="277.6" width="2.6" height="2.6" fill="#f01e28"/>
<line x1="90.1" y1="260.7" x2="90.1" y2="276.7" stroke="#f01e28" stroke-width="1.1"/>
<line x1="88.2" y1="260.7" x2="92" y2="260.7" stroke="#f01e28" stroke-width="1.1"/>
<line x1="88.2" y1="276.7" x2="92" y2="276.7" stroke="#f01e28" stroke-width="1.1"/>
<rect x="88.8" y="267.4" width="2.6" height="2.6" fill="#f01e28"/>
<polyline points="112,262 122.2,261.5 132.3,256.4 142.7,251.8" fill="none" stroke="#f01e28" stroke-width="1" stroke-linejoin="round"/>
<line x1="112" y1="259.5" x2="112" y2="264.5" stroke="#f01e28" stroke-width="1.1"/>
<line x1="110.1" y1="259.5" x2="113.9" y2="259.5" stroke="#f01e28" stroke-width="1.1"/>
<line x1="110.1" y1="264.5" x2="113.9" y2="264.5" stroke="#f01e28" stroke-width="1.1"/>
<rect x="110.7" y="260.7" width="2.6" height="2.6" fill="#f01e28"/>
<line x1="122.2" y1="260.5" x2="122.2" y2="262.5" stroke="#f01e28" stroke-width="1.1"/>
<line x1="120.3" y1="260.5" x2="124.1" y2="260.5" stroke="#f01e28" stroke-width="1.1"/>
<line x1="120.3" y1="262.5" x2="124.1" y2="262.5" stroke="#f01e28" stroke-width="1.1"/>
<rect x="120.9" y="260.2" width="2.6" height="2.6" fill="#f01e28"/>
<line x1="132.3" y1="252.9" x2="132.3" y2="259.9" stroke="#f01e28" stroke-width="1.1"/>
<line x1="130.4" y1="252.9" x2="134.2" y2="252.9" stroke="#f01e28" stroke-width="1.1"/>
<line x1="130.4" y1="259.9" x2="134.2" y2="259.9" stroke="#f01e28" stroke-width="1.1"/>
<rect x="131" y="255.1" width="2.6" height="2.6" fill="#f01e28"/>
<line x1="142.7" y1="250.8" x2="142.7" y2="252.8" stroke="#f01e28" stroke-width="1.1"/>
<line x1="140.8" y1="250.8" x2="144.6" y2="250.8" stroke="#f01e28" stroke-width="1.1"/>
<line x1="140.8" y1="252.8" x2="144.6" y2="252.8" stroke="#f01e28" stroke-width="1.1"/>
<rect x="141.4" y="250.5" width="2.6" height="2.6" fill="#f01e28"/>
<polyline points="29.4,272.8 39.5,273.6 49.4,272.8 58.8,271.4 69.5,265.6 79.6,255.5 89.8,244.1" fill="none" stroke="#24b034" stroke-width="1" stroke-linejoin="round"/>
<line x1="29.4" y1="270.8" x2="29.4" y2="274.8" stroke="#24b034" stroke-width="1.1"/>
<line x1="27.5" y1="270.8" x2="31.3" y2="270.8" stroke="#24b034" stroke-width="1.1"/>
<line x1="27.5" y1="274.8" x2="31.3" y2="274.8" stroke="#24b034" stroke-width="1.1"/>
<rect x="28.1" y="271.5" width="2.6" height="2.6" fill="#24b034"/>
<line x1="39.5" y1="272.6" x2="39.5" y2="274.6" stroke="#24b034" stroke-width="1.1"/>
<line x1="37.6" y1="272.6" x2="41.4" y2="272.6" stroke="#24b034" stroke-width="1.1"/>
<line x1="37.6" y1="274.6" x2="41.4" y2="274.6" stroke="#24b034" stroke-width="1.1"/>
<rect x="38.2" y="272.3" width="2.6" height="2.6" fill="#24b034"/>
<line x1="49.4" y1="270.8" x2="49.4" y2="274.8" stroke="#24b034" stroke-width="1.1"/>
<line x1="47.5" y1="270.8" x2="51.3" y2="270.8" stroke="#24b034" stroke-width="1.1"/>
<line x1="47.5" y1="274.8" x2="51.3" y2="274.8" stroke="#24b034" stroke-width="1.1"/>
<rect x="48.1" y="271.5" width="2.6" height="2.6" fill="#24b034"/>
<line x1="58.8" y1="270.4" x2="58.8" y2="272.4" stroke="#24b034" stroke-width="1.1"/>
<line x1="56.9" y1="270.4" x2="60.7" y2="270.4" stroke="#24b034" stroke-width="1.1"/>
<line x1="56.9" y1="272.4" x2="60.7" y2="272.4" stroke="#24b034" stroke-width="1.1"/>
<rect x="57.5" y="270.1" width="2.6" height="2.6" fill="#24b034"/>
<line x1="69.5" y1="257.1" x2="69.5" y2="274.1" stroke="#24b034" stroke-width="1.1"/>
<line x1="67.6" y1="257.1" x2="71.4" y2="257.1" stroke="#24b034" stroke-width="1.1"/>
<line x1="67.6" y1="274.1" x2="71.4" y2="274.1" stroke="#24b034" stroke-width="1.1"/>
<rect x="68.2" y="264.3" width="2.6" height="2.6" fill="#24b034"/>
<line x1="79.6" y1="253.5" x2="79.6" y2="257.5" stroke="#24b034" stroke-width="1.1"/>
<line x1="77.7" y1="253.5" x2="81.5" y2="253.5" stroke="#24b034" stroke-width="1.1"/>
<line x1="77.7" y1="257.5" x2="81.5" y2="257.5" stroke="#24b034" stroke-width="1.1"/>
<rect x="78.3" y="254.2" width="2.6" height="2.6" fill="#24b034"/>
<line x1="89.8" y1="241.1" x2="89.8" y2="247.1" stroke="#24b034" stroke-width="1.1"/>
<line x1="87.9" y1="241.1" x2="91.7" y2="241.1" stroke="#24b034" stroke-width="1.1"/>
<line x1="87.9" y1="247.1" x2="91.7" y2="247.1" stroke="#24b034" stroke-width="1.1"/>
<rect x="88.5" y="242.8" width="2.6" height="2.6" fill="#24b034"/>
<polyline points="29.4,278.9 32.6,278.9 37.4,258 41.4,233.5 45.9,228.2" fill="none" stroke="#1f44b4" stroke-width="1" stroke-linejoin="round"/>
<line x1="29.4" y1="276.9" x2="29.4" y2="280.9" stroke="#1f44b4" stroke-width="1.1"/>
<line x1="27.5" y1="276.9" x2="31.3" y2="276.9" stroke="#1f44b4" stroke-width="1.1"/>
<line x1="27.5" y1="280.9" x2="31.3" y2="280.9" stroke="#1f44b4" stroke-width="1.1"/>
<rect x="28.1" y="277.6" width="2.6" height="2.6" fill="#1f44b4"/>
<line x1="32.6" y1="275.9" x2="32.6" y2="281.9" stroke="#1f44b4" stroke-width="1.1"/>
<line x1="30.7" y1="275.9" x2="34.5" y2="275.9" stroke="#1f44b4" stroke-width="1.1"/>
<line x1="30.7" y1="281.9" x2="34.5" y2="281.9" stroke="#1f44b4" stroke-width="1.1"/>
<rect x="31.3" y="277.6" width="2.6" height="2.6" fill="#1f44b4"/>
<line x1="37.4" y1="254" x2="37.4" y2="262" stroke="#1f44b4" stroke-width="1.1"/>
<line x1="35.5" y1="254" x2="39.3" y2="254" stroke="#1f44b4" stroke-width="1.1"/>
<line x1="35.5" y1="262" x2="39.3" y2="262" stroke="#1f44b4" stroke-width="1.1"/>
<rect x="36.1" y="256.7" width="2.6" height="2.6" fill="#1f44b4"/>
<line x1="41.4" y1="229.5" x2="41.4" y2="237.5" stroke="#1f44b4" stroke-width="1.1"/>
<line x1="39.5" y1="229.5" x2="43.3" y2="229.5" stroke="#1f44b4" stroke-width="1.1"/>
<line x1="39.5" y1="237.5" x2="43.3" y2="237.5" stroke="#1f44b4" stroke-width="1.1"/>
<rect x="40.1" y="232.2" width="2.6" height="2.6" fill="#1f44b4"/>
<line x1="45.9" y1="226.2" x2="45.9" y2="230.2" stroke="#1f44b4" stroke-width="1.1"/>
<line x1="44" y1="226.2" x2="47.8" y2="226.2" stroke="#1f44b4" stroke-width="1.1"/>
<line x1="44" y1="230.2" x2="47.8" y2="230.2" stroke="#1f44b4" stroke-width="1.1"/>
<rect x="44.6" y="226.9" width="2.6" height="2.6" fill="#1f44b4"/>
<polyline points="90.1,268.7 100.3,267" fill="none" stroke="#f01e28" stroke-width="1" stroke-linejoin="round"/>
<polyline points="104.9,266.3 112,262" fill="none" stroke="#f01e28" stroke-width="1" stroke-linejoin="round"/>
<text x="31.5" y="286.9" font-family="Liberation Sans, sans-serif" font-size="3.8" font-weight="normal" text-anchor="middle" fill="#555">a</text>
<text x="43.9" y="260.7" font-family="Liberation Sans, sans-serif" font-size="3.8" font-weight="normal" text-anchor="middle" fill="#555">b</text>
<text x="46.9" y="236.7" font-family="Liberation Sans, sans-serif" font-size="3.8" font-weight="normal" text-anchor="middle" fill="#555">c</text>
<text x="35.5" y="279.4" font-family="Liberation Sans, sans-serif" font-size="3.8" font-weight="normal" text-anchor="middle" fill="#555">b</text>
<text x="33" y="271.3" font-family="Liberation Sans, sans-serif" font-size="3.8" font-weight="normal" text-anchor="middle" fill="#555">a</text>
<text x="94.4" y="246.5" font-family="Liberation Sans, sans-serif" font-size="3.8" font-weight="normal" text-anchor="middle" fill="#555">c</text>
<text x="84.2" y="257.7" font-family="Liberation Sans, sans-serif" font-size="3.8" font-weight="normal" text-anchor="middle" fill="#555">b</text>
<text x="73.9" y="266.7" font-family="Liberation Sans, sans-serif" font-size="3.8" font-weight="normal" text-anchor="middle" fill="#555">ab</text>
<text x="93.6" y="271.6" font-family="Liberation Sans, sans-serif" font-size="3.8" font-weight="normal" text-anchor="middle" fill="#555">b</text>
<text x="63.3" y="273.7" font-family="Liberation Sans, sans-serif" font-size="3.8" font-weight="normal" text-anchor="middle" fill="#555">a</text>
<text x="52" y="272.3" font-family="Liberation Sans, sans-serif" font-size="3.8" font-weight="normal" text-anchor="middle" fill="#555">a</text>
<text x="42" y="275.3" font-family="Liberation Sans, sans-serif" font-size="3.8" font-weight="normal" text-anchor="middle" fill="#555">a</text>
<text x="114.8" y="267.8" font-family="Liberation Sans, sans-serif" font-size="3.8" font-weight="normal" text-anchor="middle" fill="#555">c</text>
<text x="125.5" y="266.7" font-family="Liberation Sans, sans-serif" font-size="3.8" font-weight="normal" text-anchor="middle" fill="#555">c</text>
<text x="136.9" y="260.9" font-family="Liberation Sans, sans-serif" font-size="3.8" font-weight="normal" text-anchor="middle" fill="#555">cd</text>
<text x="147.6" y="254.7" font-family="Liberation Sans, sans-serif" font-size="3.8" font-weight="normal" text-anchor="middle" fill="#555">d</text>
<text x="54" y="209.5" font-family="Liberation Sans, sans-serif" font-size="3" font-weight="normal" text-anchor="middle" fill="#555">a</text>
<text x="64.5" y="205" font-family="Liberation Sans, sans-serif" font-size="3" font-weight="normal" text-anchor="middle" fill="#555">b</text>
<text x="75" y="205" font-family="Liberation Sans, sans-serif" font-size="3" font-weight="normal" text-anchor="middle" fill="#555">b</text>
<text x="86" y="203" font-family="Liberation Sans, sans-serif" font-size="3" font-weight="normal" text-anchor="middle" fill="#555">bc</text>
<text x="96.5" y="201.5" font-family="Liberation Sans, sans-serif" font-size="3" font-weight="normal" text-anchor="middle" fill="#555">c</text>
<text x="107.5" y="192" font-family="Liberation Sans, sans-serif" font-size="3" font-weight="normal" text-anchor="middle" fill="#555">d</text>
<line x1="51.2" y1="180.9" x2="51.2" y2="224.1" stroke="#808080" stroke-width="0.8"/>
<line x1="50.2" y1="180.9" x2="51.2" y2="180.9" stroke="#808080" stroke-width="0.8"/>
<text x="49.8" y="182.2" font-family="Liberation Sans, sans-serif" font-size="3.6" font-weight="bold" text-anchor="end" fill="#333">10</text>
<line x1="50.2" y1="189.54" x2="51.2" y2="189.54" stroke="#808080" stroke-width="0.8"/>
<text x="49.8" y="190.84" font-family="Liberation Sans, sans-serif" font-size="3.6" font-weight="bold" text-anchor="end" fill="#333">8</text>
<line x1="50.2" y1="198.18" x2="51.2" y2="198.18" stroke="#808080" stroke-width="0.8"/>
<text x="49.8" y="199.48" font-family="Liberation Sans, sans-serif" font-size="3.6" font-weight="bold" text-anchor="end" fill="#333">6</text>
<line x1="50.2" y1="206.82" x2="51.2" y2="206.82" stroke="#808080" stroke-width="0.8"/>
<text x="49.8" y="208.12" font-family="Liberation Sans, sans-serif" font-size="3.6" font-weight="bold" text-anchor="end" fill="#333">4</text>
<line x1="50.2" y1="215.46" x2="51.2" y2="215.46" stroke="#808080" stroke-width="0.8"/>
<text x="49.8" y="216.76" font-family="Liberation Sans, sans-serif" font-size="3.6" font-weight="bold" text-anchor="end" fill="#333">2</text>
<line x1="50.2" y1="224.1" x2="51.2" y2="224.1" stroke="#808080" stroke-width="0.8"/>
<text x="49.8" y="225.4" font-family="Liberation Sans, sans-serif" font-size="3.6" font-weight="bold" text-anchor="end" fill="#333">0</text>
<line x1="51.2" y1="224.1" x2="115" y2="224.1" stroke="#808080" stroke-width="0.8"/>
<line x1="51.2" y1="224.1" x2="51.2" y2="225.3" stroke="#808080" stroke-width="0.8"/>
<text x="51.2" y="229.2" font-family="Liberation Sans, sans-serif" font-size="3.6" font-weight="bold" text-anchor="middle" fill="#333">0</text>
<line x1="61.84" y1="224.1" x2="61.84" y2="225.3" stroke="#808080" stroke-width="0.8"/>
<text x="61.84" y="229.2" font-family="Liberation Sans, sans-serif" font-size="3.6" font-weight="bold" text-anchor="middle" fill="#333">5</text>
<line x1="72.47" y1="224.1" x2="72.47" y2="225.3" stroke="#808080" stroke-width="0.8"/>
<text x="72.47" y="229.2" font-family="Liberation Sans, sans-serif" font-size="3.6" font-weight="bold" text-anchor="middle" fill="#333">10</text>
<line x1="83.11" y1="224.1" x2="83.11" y2="225.3" stroke="#808080" stroke-width="0.8"/>
<text x="83.11" y="229.2" font-family="Liberation Sans, sans-serif" font-size="3.6" font-weight="bold" text-anchor="middle" fill="#333">15</text>
<line x1="93.74" y1="224.1" x2="93.74" y2="225.3" stroke="#808080" stroke-width="0.8"/>
<text x="93.74" y="229.2" font-family="Liberation Sans, sans-serif" font-size="3.6" font-weight="bold" text-anchor="middle" fill="#333">20</text>
<line x1="104.38" y1="224.1" x2="104.38" y2="225.3" stroke="#808080" stroke-width="0.8"/>
<text x="104.38" y="229.2" font-family="Liberation Sans, sans-serif" font-size="3.6" font-weight="bold" text-anchor="middle" fill="#333">25</text>
<line x1="115.01" y1="224.1" x2="115.01" y2="225.3" stroke="#808080" stroke-width="0.8"/>
<text x="115.01" y="229.2" font-family="Liberation Sans, sans-serif" font-size="3.6" font-weight="bold" text-anchor="middle" fill="#333">30</text>
<text x="66.2" y="235.8" font-family="Liberation Sans, sans-serif" font-size="4.6" font-weight="bold" text-anchor="start" fill="#1a1a1a" stroke="#1a1a1a" stroke-width="0.15">Storage time (d)</text>
<text x="42.1" y="202.3" font-family="Liberation Sans, sans-serif" font-size="4.6" font-weight="bold" text-anchor="middle" fill="#1a1a1a" transform="rotate(-90 42.1 202.3)" stroke="#1a1a1a" stroke-width="0.12">TVC (log CFU/g)</text>
<polyline points="51.2,206.8 61.8,202.1 72.5,201.6 83.1,200.3 93.7,198.6 104.4,190" fill="none" stroke="#ae78d8" stroke-width="0.7" stroke-linejoin="round"/>
<line x1="51.2" y1="205.8" x2="51.2" y2="207.8" stroke="#8a48c0" stroke-width="0.75"/>
<line x1="50.1" y1="205.8" x2="52.3" y2="205.8" stroke="#8a48c0" stroke-width="0.75"/>
<line x1="50.1" y1="207.8" x2="52.3" y2="207.8" stroke="#8a48c0" stroke-width="0.75"/>
<rect x="50.4" y="206" width="1.6" height="1.6" fill="#8a48c0"/>
<line x1="61.8" y1="200.1" x2="61.8" y2="204.1" stroke="#8a48c0" stroke-width="0.75"/>
<line x1="60.7" y1="200.1" x2="62.9" y2="200.1" stroke="#8a48c0" stroke-width="0.75"/>
<line x1="60.7" y1="204.1" x2="62.9" y2="204.1" stroke="#8a48c0" stroke-width="0.75"/>
<rect x="61" y="201.3" width="1.6" height="1.6" fill="#8a48c0"/>
<line x1="72.5" y1="199.1" x2="72.5" y2="204.1" stroke="#8a48c0" stroke-width="0.75"/>
<line x1="71.4" y1="199.1" x2="73.6" y2="199.1" stroke="#8a48c0" stroke-width="0.75"/>
<line x1="71.4" y1="204.1" x2="73.6" y2="204.1" stroke="#8a48c0" stroke-width="0.75"/>
<rect x="71.7" y="200.8" width="1.6" height="1.6" fill="#8a48c0"/>
<line x1="83.1" y1="199.3" x2="83.1" y2="201.3" stroke="#8a48c0" stroke-width="0.75"/>
<line x1="82" y1="199.3" x2="84.2" y2="199.3" stroke="#8a48c0" stroke-width="0.75"/>
<line x1="82" y1="201.3" x2="84.2" y2="201.3" stroke="#8a48c0" stroke-width="0.75"/>
<rect x="82.3" y="199.5" width="1.6" height="1.6" fill="#8a48c0"/>
<line x1="93.7" y1="197.6" x2="93.7" y2="199.6" stroke="#8a48c0" stroke-width="0.75"/>
<line x1="92.6" y1="197.6" x2="94.8" y2="197.6" stroke="#8a48c0" stroke-width="0.75"/>
<line x1="92.6" y1="199.6" x2="94.8" y2="199.6" stroke="#8a48c0" stroke-width="0.75"/>
<rect x="92.9" y="197.8" width="1.6" height="1.6" fill="#8a48c0"/>
<line x1="104.4" y1="188" x2="104.4" y2="192" stroke="#8a48c0" stroke-width="0.75"/>
<line x1="103.3" y1="188" x2="105.5" y2="188" stroke="#8a48c0" stroke-width="0.75"/>
<line x1="103.3" y1="192" x2="105.5" y2="192" stroke="#8a48c0" stroke-width="0.75"/>
<rect x="103.6" y="189.2" width="1.6" height="1.6" fill="#8a48c0"/>
<text x="191.5" y="183.2" font-family="Liberation Serif, serif" font-size="10.5" font-weight="normal" text-anchor="start" fill="#1a1a1a">E</text>
<rect x="257.5" y="171.3" width="5.6" height="1.1" fill="#999"/>
<g font-family="Liberation Sans, sans-serif" font-size="8.3" font-weight="bold" fill="#1a1a1a" stroke="#1a1a1a" stroke-width="0.25">
<text x="264.1" y="174.9">2</text>
<text x="272.3" y="174.9">C</text>
</g>
<circle cx="271.8" cy="169.9" r="0.8" fill="none" stroke="#1a1a1a" stroke-width="0.6"/>
<line x1="208.5" y1="222.25" x2="208.5" y2="300.5" stroke="#404040" stroke-width="1.2"/>
<line x1="206.5" y1="222.25" x2="208.5" y2="222.25" stroke="#404040" stroke-width="1.2"/>
<text x="205.8" y="224.41" font-family="Liberation Sans, sans-serif" font-size="6" font-weight="bold" text-anchor="end" fill="#1a1a1a" stroke="#1a1a1a" stroke-width="0.12">7.5</text>
<line x1="206.5" y1="237.9" x2="208.5" y2="237.9" stroke="#404040" stroke-width="1.2"/>
<text x="205.8" y="240.06" font-family="Liberation Sans, sans-serif" font-size="6" font-weight="bold" text-anchor="end" fill="#1a1a1a" stroke="#1a1a1a" stroke-width="0.12">7.0</text>
<line x1="206.5" y1="253.55" x2="208.5" y2="253.55" stroke="#404040" stroke-width="1.2"/>
<text x="205.8" y="255.71" font-family="Liberation Sans, sans-serif" font-size="6" font-weight="bold" text-anchor="end" fill="#1a1a1a" stroke="#1a1a1a" stroke-width="0.12">6.5</text>
<line x1="206.5" y1="269.2" x2="208.5" y2="269.2" stroke="#404040" stroke-width="1.2"/>
<text x="205.8" y="271.36" font-family="Liberation Sans, sans-serif" font-size="6" font-weight="bold" text-anchor="end" fill="#1a1a1a" stroke="#1a1a1a" stroke-width="0.12">6.0</text>
<line x1="206.5" y1="284.85" x2="208.5" y2="284.85" stroke="#404040" stroke-width="1.2"/>
<text x="205.8" y="287.01" font-family="Liberation Sans, sans-serif" font-size="6" font-weight="bold" text-anchor="end" fill="#1a1a1a" stroke="#1a1a1a" stroke-width="0.12">5.5</text>
<line x1="206.5" y1="300.5" x2="208.5" y2="300.5" stroke="#404040" stroke-width="1.2"/>
<text x="205.8" y="302.66" font-family="Liberation Sans, sans-serif" font-size="6" font-weight="bold" text-anchor="end" fill="#1a1a1a" stroke="#1a1a1a" stroke-width="0.12">5.0</text>
<line x1="208.5" y1="300.5" x2="281" y2="300.5" stroke="#404040" stroke-width="1.2"/>
<line x1="286.3" y1="300.5" x2="335.5" y2="300.5" stroke="#404040" stroke-width="1.2"/>
<line x1="281" y1="299" x2="281" y2="302" stroke="#404040" stroke-width="1.08"/>
<line x1="286.3" y1="299" x2="286.3" y2="302" stroke="#404040" stroke-width="1.08"/>
<line x1="208.5" y1="300.5" x2="208.5" y2="302.8" stroke="#404040" stroke-width="1.2"/>
<text x="210.8" y="309.6" font-family="Liberation Sans, sans-serif" font-size="6.1" font-weight="bold" text-anchor="end" fill="#1a1a1a" transform="rotate(-45 210.8 309.6)" stroke="#1a1a1a" stroke-width="0.1">0</text>
<line x1="218.86" y1="300.5" x2="218.86" y2="302.8" stroke="#404040" stroke-width="1.2"/>
<text x="221.16" y="309.6" font-family="Liberation Sans, sans-serif" font-size="6.1" font-weight="bold" text-anchor="end" fill="#1a1a1a" transform="rotate(-45 221.16 309.6)" stroke="#1a1a1a" stroke-width="0.1">12</text>
<line x1="229.21" y1="300.5" x2="229.21" y2="302.8" stroke="#404040" stroke-width="1.2"/>
<text x="231.51" y="309.6" font-family="Liberation Sans, sans-serif" font-size="6.1" font-weight="bold" text-anchor="end" fill="#1a1a1a" transform="rotate(-45 231.51 309.6)" stroke="#1a1a1a" stroke-width="0.1">24</text>
<line x1="239.57" y1="300.5" x2="239.57" y2="302.8" stroke="#404040" stroke-width="1.2"/>
<text x="241.87" y="309.6" font-family="Liberation Sans, sans-serif" font-size="6.1" font-weight="bold" text-anchor="end" fill="#1a1a1a" transform="rotate(-45 241.87 309.6)" stroke="#1a1a1a" stroke-width="0.1">36</text>
<line x1="249.93" y1="300.5" x2="249.93" y2="302.8" stroke="#404040" stroke-width="1.2"/>
<text x="252.23" y="309.6" font-family="Liberation Sans, sans-serif" font-size="6.1" font-weight="bold" text-anchor="end" fill="#1a1a1a" transform="rotate(-45 252.23 309.6)" stroke="#1a1a1a" stroke-width="0.1">48</text>
<line x1="260.29" y1="300.5" x2="260.29" y2="302.8" stroke="#404040" stroke-width="1.2"/>
<text x="262.59" y="309.6" font-family="Liberation Sans, sans-serif" font-size="6.1" font-weight="bold" text-anchor="end" fill="#1a1a1a" transform="rotate(-45 262.59 309.6)" stroke="#1a1a1a" stroke-width="0.1">60</text>
<line x1="270.64" y1="300.5" x2="270.64" y2="302.8" stroke="#404040" stroke-width="1.2"/>
<text x="272.94" y="309.6" font-family="Liberation Sans, sans-serif" font-size="6.1" font-weight="bold" text-anchor="end" fill="#1a1a1a" transform="rotate(-45 272.94 309.6)" stroke="#1a1a1a" stroke-width="0.1">72</text>
<line x1="281" y1="300.5" x2="281" y2="302.8" stroke="#404040" stroke-width="1.2"/>
<text x="283.3" y="309.6" font-family="Liberation Sans, sans-serif" font-size="6.1" font-weight="bold" text-anchor="end" fill="#1a1a1a" transform="rotate(-45 283.3 309.6)" stroke="#1a1a1a" stroke-width="0.1">84</text>
<line x1="294.2" y1="300.5" x2="294.2" y2="302.8" stroke="#404040" stroke-width="1.2"/>
<text x="296.5" y="309.6" font-family="Liberation Sans, sans-serif" font-size="6.1" font-weight="bold" text-anchor="end" fill="#1a1a1a" transform="rotate(-45 296.5 309.6)" stroke="#1a1a1a" stroke-width="0.1">144</text>
<line x1="304.6" y1="300.5" x2="304.6" y2="302.8" stroke="#404040" stroke-width="1.2"/>
<text x="306.9" y="309.6" font-family="Liberation Sans, sans-serif" font-size="6.1" font-weight="bold" text-anchor="end" fill="#1a1a1a" transform="rotate(-45 306.9 309.6)" stroke="#1a1a1a" stroke-width="0.1">216</text>
<line x1="315" y1="300.5" x2="315" y2="302.8" stroke="#404040" stroke-width="1.2"/>
<text x="317.3" y="309.6" font-family="Liberation Sans, sans-serif" font-size="6.1" font-weight="bold" text-anchor="end" fill="#1a1a1a" transform="rotate(-45 317.3 309.6)" stroke="#1a1a1a" stroke-width="0.1">288</text>
<line x1="325.4" y1="300.5" x2="325.4" y2="302.8" stroke="#404040" stroke-width="1.2"/>
<text x="327.7" y="309.6" font-family="Liberation Sans, sans-serif" font-size="6.1" font-weight="bold" text-anchor="end" fill="#1a1a1a" transform="rotate(-45 327.7 309.6)" stroke="#1a1a1a" stroke-width="0.1">360</text>
<line x1="335.8" y1="300.5" x2="335.8" y2="302.8" stroke="#404040" stroke-width="1.2"/>
<text x="338.1" y="309.6" font-family="Liberation Sans, sans-serif" font-size="6.1" font-weight="bold" text-anchor="end" fill="#1a1a1a" transform="rotate(-45 338.1 309.6)" stroke="#1a1a1a" stroke-width="0.1">432</text>
<text x="241" y="327.6" font-family="Liberation Sans, sans-serif" font-size="8.7" font-weight="bold" text-anchor="start" fill="#1a1a1a" stroke="#1a1a1a" stroke-width="0.35" textLength="62" lengthAdjust="spacingAndGlyphs">Storage time (h)</text>
<text x="191.3" y="258.2" font-family="Liberation Sans, sans-serif" font-size="7" font-weight="bold" text-anchor="middle" fill="#1a1a1a" transform="rotate(-90 191.3 258.2)" stroke="#1a1a1a" stroke-width="0.35">pH</text>
<polyline points="208.5,279.9 219.3,281.3 229.3,281.3 239.4,277.4 250.1,268.1 260,262.7 270.7,255.5" fill="none" stroke="#24b034" stroke-width="1" stroke-linejoin="round"/>
<line x1="208.5" y1="277.9" x2="208.5" y2="281.9" stroke="#24b034" stroke-width="1.2"/>
<line x1="206.5" y1="277.9" x2="210.5" y2="277.9" stroke="#24b034" stroke-width="1.2"/>
<line x1="206.5" y1="281.9" x2="210.5" y2="281.9" stroke="#24b034" stroke-width="1.2"/>
<rect x="207.1" y="278.5" width="2.8" height="2.8" fill="#24b034"/>
<line x1="219.3" y1="278.8" x2="219.3" y2="283.8" stroke="#24b034" stroke-width="1.2"/>
<line x1="217.3" y1="278.8" x2="221.3" y2="278.8" stroke="#24b034" stroke-width="1.2"/>
<line x1="217.3" y1="283.8" x2="221.3" y2="283.8" stroke="#24b034" stroke-width="1.2"/>
<rect x="217.9" y="279.9" width="2.8" height="2.8" fill="#24b034"/>
<line x1="229.3" y1="277.8" x2="229.3" y2="284.8" stroke="#24b034" stroke-width="1.2"/>
<line x1="227.3" y1="277.8" x2="231.3" y2="277.8" stroke="#24b034" stroke-width="1.2"/>
<line x1="227.3" y1="284.8" x2="231.3" y2="284.8" stroke="#24b034" stroke-width="1.2"/>
<rect x="227.9" y="279.9" width="2.8" height="2.8" fill="#24b034"/>
<line x1="239.4" y1="272.4" x2="239.4" y2="282.4" stroke="#24b034" stroke-width="1.2"/>
<line x1="237.4" y1="272.4" x2="241.4" y2="272.4" stroke="#24b034" stroke-width="1.2"/>
<line x1="237.4" y1="282.4" x2="241.4" y2="282.4" stroke="#24b034" stroke-width="1.2"/>
<rect x="238" y="276" width="2.8" height="2.8" fill="#24b034"/>
<line x1="250.1" y1="266.1" x2="250.1" y2="270.1" stroke="#24b034" stroke-width="1.2"/>
<line x1="248.1" y1="266.1" x2="252.1" y2="266.1" stroke="#24b034" stroke-width="1.2"/>
<line x1="248.1" y1="270.1" x2="252.1" y2="270.1" stroke="#24b034" stroke-width="1.2"/>
<rect x="248.7" y="266.7" width="2.8" height="2.8" fill="#24b034"/>
<line x1="260" y1="260.2" x2="260" y2="265.2" stroke="#24b034" stroke-width="1.2"/>
<line x1="258" y1="260.2" x2="262" y2="260.2" stroke="#24b034" stroke-width="1.2"/>
<line x1="258" y1="265.2" x2="262" y2="265.2" stroke="#24b034" stroke-width="1.2"/>
<rect x="258.6" y="261.3" width="2.8" height="2.8" fill="#24b034"/>
<line x1="270.7" y1="253.5" x2="270.7" y2="257.5" stroke="#24b034" stroke-width="1.2"/>
<line x1="268.7" y1="253.5" x2="272.7" y2="253.5" stroke="#24b034" stroke-width="1.2"/>
<line x1="268.7" y1="257.5" x2="272.7" y2="257.5" stroke="#24b034" stroke-width="1.2"/>
<rect x="269.3" y="254.1" width="2.8" height="2.8" fill="#24b034"/>
<polyline points="208.5,277 212.7,276.4 216.9,272.8 221.5,269.8 225.8,268" fill="none" stroke="#1f44b4" stroke-width="1" stroke-linejoin="round"/>
<line x1="208.5" y1="276" x2="208.5" y2="278" stroke="#1f44b4" stroke-width="1.2"/>
<line x1="206.5" y1="276" x2="210.5" y2="276" stroke="#1f44b4" stroke-width="1.2"/>
<line x1="206.5" y1="278" x2="210.5" y2="278" stroke="#1f44b4" stroke-width="1.2"/>
<rect x="207.1" y="275.6" width="2.8" height="2.8" fill="#1f44b4"/>
<line x1="212.7" y1="274.9" x2="212.7" y2="277.9" stroke="#1f44b4" stroke-width="1.2"/>
<line x1="210.7" y1="274.9" x2="214.7" y2="274.9" stroke="#1f44b4" stroke-width="1.2"/>
<line x1="210.7" y1="277.9" x2="214.7" y2="277.9" stroke="#1f44b4" stroke-width="1.2"/>
<rect x="211.3" y="275" width="2.8" height="2.8" fill="#1f44b4"/>
<line x1="216.9" y1="271.3" x2="216.9" y2="274.3" stroke="#1f44b4" stroke-width="1.2"/>
<line x1="214.9" y1="271.3" x2="218.9" y2="271.3" stroke="#1f44b4" stroke-width="1.2"/>
<line x1="214.9" y1="274.3" x2="218.9" y2="274.3" stroke="#1f44b4" stroke-width="1.2"/>
<rect x="215.5" y="271.4" width="2.8" height="2.8" fill="#1f44b4"/>
<line x1="221.5" y1="266.8" x2="221.5" y2="272.8" stroke="#1f44b4" stroke-width="1.2"/>
<line x1="219.5" y1="266.8" x2="223.5" y2="266.8" stroke="#1f44b4" stroke-width="1.2"/>
<line x1="219.5" y1="272.8" x2="223.5" y2="272.8" stroke="#1f44b4" stroke-width="1.2"/>
<rect x="220.1" y="268.4" width="2.8" height="2.8" fill="#1f44b4"/>
<line x1="225.8" y1="267" x2="225.8" y2="269" stroke="#1f44b4" stroke-width="1.2"/>
<line x1="223.8" y1="267" x2="227.8" y2="267" stroke="#1f44b4" stroke-width="1.2"/>
<line x1="223.8" y1="269" x2="227.8" y2="269" stroke="#1f44b4" stroke-width="1.2"/>
<rect x="224.4" y="266.6" width="2.8" height="2.8" fill="#1f44b4"/>
<polyline points="208.5,276.4 270.7,277.5" fill="none" stroke="#f01e28" stroke-width="1" stroke-linejoin="round"/>
<line x1="208.5" y1="273.8" x2="208.5" y2="279" stroke="#f01e28" stroke-width="1.2"/>
<line x1="206.5" y1="273.8" x2="210.5" y2="273.8" stroke="#f01e28" stroke-width="1.2"/>
<line x1="206.5" y1="279" x2="210.5" y2="279" stroke="#f01e28" stroke-width="1.2"/>
<rect x="207.1" y="275" width="2.8" height="2.8" fill="#f01e28"/>
<line x1="270.7" y1="275" x2="270.7" y2="280" stroke="#f01e28" stroke-width="1.2"/>
<line x1="268.7" y1="275" x2="272.7" y2="275" stroke="#f01e28" stroke-width="1.2"/>
<line x1="268.7" y1="280" x2="272.7" y2="280" stroke="#f01e28" stroke-width="1.2"/>
<rect x="269.3" y="276.1" width="2.8" height="2.8" fill="#f01e28"/>
<polyline points="294.2,268.6 304.1,264.7 314.8,253.6 325.4,243.4" fill="none" stroke="#f01e28" stroke-width="1" stroke-linejoin="round"/>
<line x1="294.2" y1="262.7" x2="294.2" y2="274.5" stroke="#f01e28" stroke-width="1.2"/>
<line x1="292.2" y1="262.7" x2="296.2" y2="262.7" stroke="#f01e28" stroke-width="1.2"/>
<line x1="292.2" y1="274.5" x2="296.2" y2="274.5" stroke="#f01e28" stroke-width="1.2"/>
<rect x="292.8" y="267.2" width="2.8" height="2.8" fill="#f01e28"/>
<line x1="304.1" y1="263.7" x2="304.1" y2="265.7" stroke="#f01e28" stroke-width="1.2"/>
<line x1="302.1" y1="263.7" x2="306.1" y2="263.7" stroke="#f01e28" stroke-width="1.2"/>
<line x1="302.1" y1="265.7" x2="306.1" y2="265.7" stroke="#f01e28" stroke-width="1.2"/>
<rect x="302.7" y="263.3" width="2.8" height="2.8" fill="#f01e28"/>
<line x1="314.8" y1="244" x2="314.8" y2="263.2" stroke="#f01e28" stroke-width="1.2"/>
<line x1="312.8" y1="244" x2="316.8" y2="244" stroke="#f01e28" stroke-width="1.2"/>
<line x1="312.8" y1="263.2" x2="316.8" y2="263.2" stroke="#f01e28" stroke-width="1.2"/>
<rect x="313.4" y="252.2" width="2.8" height="2.8" fill="#f01e28"/>
<line x1="325.4" y1="239.4" x2="325.4" y2="247.4" stroke="#f01e28" stroke-width="1.2"/>
<line x1="323.4" y1="239.4" x2="327.4" y2="239.4" stroke="#f01e28" stroke-width="1.2"/>
<line x1="323.4" y1="247.4" x2="327.4" y2="247.4" stroke="#f01e28" stroke-width="1.2"/>
<rect x="324" y="242" width="2.8" height="2.8" fill="#f01e28"/>
<polyline points="270.7,277.5 280.8,273.4" fill="none" stroke="#f01e28" stroke-width="1" stroke-linejoin="round"/>
<polyline points="286.5,271.1 294.2,267.9" fill="none" stroke="#f01e28" stroke-width="1" stroke-linejoin="round"/>
<text x="203.9" y="277.7" font-family="Liberation Sans, sans-serif" font-size="3.8" font-weight="normal" text-anchor="middle" fill="#555">a</text>
<text x="209.8" y="272.3" font-family="Liberation Sans, sans-serif" font-size="3.8" font-weight="normal" text-anchor="middle" fill="#555">b</text>
<text x="212.8" y="273.5" font-family="Liberation Sans, sans-serif" font-size="3.8" font-weight="normal" text-anchor="middle" fill="#555">a</text>
<text x="216.9" y="268.8" font-family="Liberation Sans, sans-serif" font-size="3.8" font-weight="normal" text-anchor="middle" fill="#555">b</text>
<text x="221.7" y="265.2" font-family="Liberation Sans, sans-serif" font-size="3.8" font-weight="normal" text-anchor="middle" fill="#555">c</text>
<text x="225.8" y="265.2" font-family="Liberation Sans, sans-serif" font-size="3.8" font-weight="normal" text-anchor="middle" fill="#555">c</text>
<text x="212.2" y="284.2" font-family="Liberation Sans, sans-serif" font-size="3.8" font-weight="normal" text-anchor="middle" fill="#555">a</text>
<text x="221.7" y="287.4" font-family="Liberation Sans, sans-serif" font-size="3.8" font-weight="normal" text-anchor="middle" fill="#555">a</text>
<text x="232.7" y="284.8" font-family="Liberation Sans, sans-serif" font-size="3.8" font-weight="normal" text-anchor="middle" fill="#555">a</text>
<text x="242.5" y="281.4" font-family="Liberation Sans, sans-serif" font-size="3.8" font-weight="normal" text-anchor="middle" fill="#555">a</text>
<text x="254" y="274.7" font-family="Liberation Sans, sans-serif" font-size="3.8" font-weight="normal" text-anchor="middle" fill="#555">b</text>
<text x="264" y="265.3" font-family="Liberation Sans, sans-serif" font-size="3.8" font-weight="normal" text-anchor="middle" fill="#555">c</text>
<text x="274.7" y="258.7" font-family="Liberation Sans, sans-serif" font-size="3.8" font-weight="normal" text-anchor="middle" fill="#555">d</text>
<text x="274.7" y="281.4" font-family="Liberation Sans, sans-serif" font-size="3.8" font-weight="normal" text-anchor="middle" fill="#555">ab</text>
<text x="298.2" y="273.1" font-family="Liberation Sans, sans-serif" font-size="3.8" font-weight="normal" text-anchor="middle" fill="#555">b</text>
<text x="308.2" y="269.5" font-family="Liberation Sans, sans-serif" font-size="3.8" font-weight="normal" text-anchor="middle" fill="#555">b</text>
<text x="319.1" y="254.9" font-family="Liberation Sans, sans-serif" font-size="3.8" font-weight="normal" text-anchor="middle" fill="#555">c</text>
<text x="329.1" y="246.8" font-family="Liberation Sans, sans-serif" font-size="3.8" font-weight="normal" text-anchor="middle" fill="#555">d</text>
<text x="232" y="227.5" font-family="Liberation Sans, sans-serif" font-size="3" font-weight="normal" text-anchor="middle" fill="#555">a</text>
<text x="243.5" y="225.5" font-family="Liberation Sans, sans-serif" font-size="3" font-weight="normal" text-anchor="middle" fill="#555">ab</text>
<text x="255.5" y="217.5" font-family="Liberation Sans, sans-serif" font-size="3" font-weight="normal" text-anchor="middle" fill="#555">bc</text>
<text x="266" y="213" font-family="Liberation Sans, sans-serif" font-size="3" font-weight="normal" text-anchor="middle" fill="#555">c</text>
<text x="277.5" y="202" font-family="Liberation Sans, sans-serif" font-size="3" font-weight="normal" text-anchor="middle" fill="#555">d</text>
<text x="289" y="195" font-family="Liberation Sans, sans-serif" font-size="3" font-weight="normal" text-anchor="middle" fill="#555">e</text>
<line x1="229" y1="181.8" x2="229" y2="226.2" stroke="#808080" stroke-width="0.8"/>
<line x1="228" y1="181.8" x2="229" y2="181.8" stroke="#808080" stroke-width="0.8"/>
<text x="227.6" y="183.02" font-family="Liberation Sans, sans-serif" font-size="3.4" font-weight="bold" text-anchor="end" fill="#333">7.5</text>
<line x1="228" y1="192.9" x2="229" y2="192.9" stroke="#808080" stroke-width="0.8"/>
<text x="227.6" y="194.12" font-family="Liberation Sans, sans-serif" font-size="3.4" font-weight="bold" text-anchor="end" fill="#333">7.0</text>
<line x1="228" y1="204" x2="229" y2="204" stroke="#808080" stroke-width="0.8"/>
<text x="227.6" y="205.22" font-family="Liberation Sans, sans-serif" font-size="3.4" font-weight="bold" text-anchor="end" fill="#333">6.5</text>
<line x1="228" y1="215.1" x2="229" y2="215.1" stroke="#808080" stroke-width="0.8"/>
<text x="227.6" y="216.32" font-family="Liberation Sans, sans-serif" font-size="3.4" font-weight="bold" text-anchor="end" fill="#333">6.0</text>
<line x1="228" y1="226.2" x2="229" y2="226.2" stroke="#808080" stroke-width="0.8"/>
<text x="227.6" y="227.42" font-family="Liberation Sans, sans-serif" font-size="3.4" font-weight="bold" text-anchor="end" fill="#333">5.5</text>
<line x1="229" y1="226.2" x2="297.4" y2="226.2" stroke="#808080" stroke-width="0.8"/>
<line x1="229" y1="226.2" x2="229" y2="227.4" stroke="#808080" stroke-width="0.8"/>
<text x="229" y="231.1" font-family="Liberation Sans, sans-serif" font-size="3.4" font-weight="bold" text-anchor="middle" fill="#333">0</text>
<line x1="240.4" y1="226.2" x2="240.4" y2="227.4" stroke="#808080" stroke-width="0.8"/>
<text x="240.4" y="231.1" font-family="Liberation Sans, sans-serif" font-size="3.4" font-weight="bold" text-anchor="middle" fill="#333">5</text>
<line x1="251.8" y1="226.2" x2="251.8" y2="227.4" stroke="#808080" stroke-width="0.8"/>
<text x="251.8" y="231.1" font-family="Liberation Sans, sans-serif" font-size="3.4" font-weight="bold" text-anchor="middle" fill="#333">10</text>
<line x1="263.2" y1="226.2" x2="263.2" y2="227.4" stroke="#808080" stroke-width="0.8"/>
<text x="263.2" y="231.1" font-family="Liberation Sans, sans-serif" font-size="3.4" font-weight="bold" text-anchor="middle" fill="#333">15</text>
<line x1="274.6" y1="226.2" x2="274.6" y2="227.4" stroke="#808080" stroke-width="0.8"/>
<text x="274.6" y="231.1" font-family="Liberation Sans, sans-serif" font-size="3.4" font-weight="bold" text-anchor="middle" fill="#333">20</text>
<line x1="286" y1="226.2" x2="286" y2="227.4" stroke="#808080" stroke-width="0.8"/>
<text x="286" y="231.1" font-family="Liberation Sans, sans-serif" font-size="3.4" font-weight="bold" text-anchor="middle" fill="#333">25</text>
<line x1="297.4" y1="226.2" x2="297.4" y2="227.4" stroke="#808080" stroke-width="0.8"/>
<text x="297.4" y="231.1" font-family="Liberation Sans, sans-serif" font-size="3.4" font-weight="bold" text-anchor="middle" fill="#333">30</text>
<text x="244.8" y="237.3" font-family="Liberation Sans, sans-serif" font-size="4.8" font-weight="bold" text-anchor="start" fill="#1a1a1a" stroke="#1a1a1a" stroke-width="0.15">Storage time (d)</text>
<text x="217.2" y="203" font-family="Liberation Sans, sans-serif" font-size="4.8" font-weight="bold" text-anchor="middle" fill="#1a1a1a" transform="rotate(-90 217.2 203)" stroke="#1a1a1a" stroke-width="0.12">pH</text>
<polyline points="229.3,221.8 240.5,220.4 252,215.4 263.5,210.7 274.5,200.5 286,193.2" fill="none" stroke="#ae78d8" stroke-width="0.7" stroke-linejoin="round"/>
<line x1="229.3" y1="220.3" x2="229.3" y2="223.3" stroke="#8a48c0" stroke-width="0.75"/>
<line x1="228.2" y1="220.3" x2="230.4" y2="220.3" stroke="#8a48c0" stroke-width="0.75"/>
<line x1="228.2" y1="223.3" x2="230.4" y2="223.3" stroke="#8a48c0" stroke-width="0.75"/>
<rect x="228.5" y="221" width="1.6" height="1.6" fill="#8a48c0"/>
<line x1="240.5" y1="219.4" x2="240.5" y2="221.4" stroke="#8a48c0" stroke-width="0.75"/>
<line x1="239.4" y1="219.4" x2="241.6" y2="219.4" stroke="#8a48c0" stroke-width="0.75"/>
<line x1="239.4" y1="221.4" x2="241.6" y2="221.4" stroke="#8a48c0" stroke-width="0.75"/>
<rect x="239.7" y="219.6" width="1.6" height="1.6" fill="#8a48c0"/>
<line x1="252" y1="208.4" x2="252" y2="222.4" stroke="#8a48c0" stroke-width="0.75"/>
<line x1="250.9" y1="208.4" x2="253.1" y2="208.4" stroke="#8a48c0" stroke-width="0.75"/>
<line x1="250.9" y1="222.4" x2="253.1" y2="222.4" stroke="#8a48c0" stroke-width="0.75"/>
<rect x="251.2" y="214.6" width="1.6" height="1.6" fill="#8a48c0"/>
<line x1="263.5" y1="207.7" x2="263.5" y2="213.7" stroke="#8a48c0" stroke-width="0.75"/>
<line x1="262.4" y1="207.7" x2="264.6" y2="207.7" stroke="#8a48c0" stroke-width="0.75"/>
<line x1="262.4" y1="213.7" x2="264.6" y2="213.7" stroke="#8a48c0" stroke-width="0.75"/>
<rect x="262.7" y="209.9" width="1.6" height="1.6" fill="#8a48c0"/>
<line x1="274.5" y1="197" x2="274.5" y2="204" stroke="#8a48c0" stroke-width="0.75"/>
<line x1="273.4" y1="197" x2="275.6" y2="197" stroke="#8a48c0" stroke-width="0.75"/>
<line x1="273.4" y1="204" x2="275.6" y2="204" stroke="#8a48c0" stroke-width="0.75"/>
<rect x="273.7" y="199.7" width="1.6" height="1.6" fill="#8a48c0"/>
<line x1="286" y1="187.4" x2="286" y2="199" stroke="#8a48c0" stroke-width="0.75"/>
<line x1="284.9" y1="187.4" x2="287.1" y2="187.4" stroke="#8a48c0" stroke-width="0.75"/>
<line x1="284.9" y1="199" x2="287.1" y2="199" stroke="#8a48c0" stroke-width="0.75"/>
<rect x="285.2" y="192.4" width="1.6" height="1.6" fill="#8a48c0"/>
<text x="377.3" y="183.2" font-family="Liberation Serif, serif" font-size="10.5" font-weight="normal" text-anchor="start" fill="#1a1a1a">F</text>
<rect x="433.9" y="171.7" width="5.6" height="1.1" fill="#555"/>
<g font-family="Liberation Sans, sans-serif" font-size="8.3" font-weight="bold" fill="#1a1a1a" stroke="#1a1a1a" stroke-width="0.25">
<text x="440.5" y="175.3">2</text>
<text x="448.7" y="175.3">C</text>
</g>
<circle cx="448.2" cy="170.3" r="0.8" fill="none" stroke="#1a1a1a" stroke-width="0.6"/>
<line x1="392.5" y1="217.94" x2="392.5" y2="299.3" stroke="#3a3a3a" stroke-width="1.4"/>
<line x1="390.5" y1="217.94" x2="392.5" y2="217.94" stroke="#3a3a3a" stroke-width="1.4"/>
<text x="389.8" y="220.1" font-family="Liberation Sans, sans-serif" font-size="6" font-weight="bold" text-anchor="end" fill="#1a1a1a" stroke="#1a1a1a" stroke-width="0.12">18</text>
<line x1="390.5" y1="231.5" x2="392.5" y2="231.5" stroke="#3a3a3a" stroke-width="1.4"/>
<text x="389.8" y="233.66" font-family="Liberation Sans, sans-serif" font-size="6" font-weight="bold" text-anchor="end" fill="#1a1a1a" stroke="#1a1a1a" stroke-width="0.12">15</text>
<line x1="390.5" y1="245.06" x2="392.5" y2="245.06" stroke="#3a3a3a" stroke-width="1.4"/>
<text x="389.8" y="247.22" font-family="Liberation Sans, sans-serif" font-size="6" font-weight="bold" text-anchor="end" fill="#1a1a1a" stroke="#1a1a1a" stroke-width="0.12">12</text>
<line x1="390.5" y1="258.62" x2="392.5" y2="258.62" stroke="#3a3a3a" stroke-width="1.4"/>
<text x="389.8" y="260.78" font-family="Liberation Sans, sans-serif" font-size="6" font-weight="bold" text-anchor="end" fill="#1a1a1a" stroke="#1a1a1a" stroke-width="0.12">9</text>
<line x1="390.5" y1="272.18" x2="392.5" y2="272.18" stroke="#3a3a3a" stroke-width="1.4"/>
<text x="389.8" y="274.34" font-family="Liberation Sans, sans-serif" font-size="6" font-weight="bold" text-anchor="end" fill="#1a1a1a" stroke="#1a1a1a" stroke-width="0.12">6</text>
<line x1="390.5" y1="285.74" x2="392.5" y2="285.74" stroke="#3a3a3a" stroke-width="1.4"/>
<text x="389.8" y="287.9" font-family="Liberation Sans, sans-serif" font-size="6" font-weight="bold" text-anchor="end" fill="#1a1a1a" stroke="#1a1a1a" stroke-width="0.12">3</text>
<line x1="390.5" y1="299.3" x2="392.5" y2="299.3" stroke="#3a3a3a" stroke-width="1.4"/>
<text x="389.8" y="301.46" font-family="Liberation Sans, sans-serif" font-size="6" font-weight="bold" text-anchor="end" fill="#1a1a1a" stroke="#1a1a1a" stroke-width="0.12">0</text>
<line x1="392.5" y1="299.3" x2="459.3" y2="299.3" stroke="#3a3a3a" stroke-width="1.4"/>
<line x1="464.3" y1="299.3" x2="511" y2="299.3" stroke="#3a3a3a" stroke-width="1.4"/>
<line x1="459.3" y1="297.8" x2="459.3" y2="300.8" stroke="#3a3a3a" stroke-width="1.26"/>
<line x1="464.3" y1="297.8" x2="464.3" y2="300.8" stroke="#3a3a3a" stroke-width="1.26"/>
<line x1="392.5" y1="299.3" x2="392.5" y2="301.6" stroke="#3a3a3a" stroke-width="1.4"/>
<text x="394.8" y="305.9" font-family="Liberation Sans, sans-serif" font-size="5.8" font-weight="bold" text-anchor="end" fill="#1a1a1a" transform="rotate(-45 394.8 305.9)" stroke="#1a1a1a" stroke-width="0.1">0</text>
<line x1="402.04" y1="299.3" x2="402.04" y2="301.6" stroke="#3a3a3a" stroke-width="1.4"/>
<text x="404.34" y="305.9" font-family="Liberation Sans, sans-serif" font-size="5.8" font-weight="bold" text-anchor="end" fill="#1a1a1a" transform="rotate(-45 404.34 305.9)" stroke="#1a1a1a" stroke-width="0.1">12</text>
<line x1="411.59" y1="299.3" x2="411.59" y2="301.6" stroke="#3a3a3a" stroke-width="1.4"/>
<text x="413.89" y="305.9" font-family="Liberation Sans, sans-serif" font-size="5.8" font-weight="bold" text-anchor="end" fill="#1a1a1a" transform="rotate(-45 413.89 305.9)" stroke="#1a1a1a" stroke-width="0.1">24</text>
<line x1="421.13" y1="299.3" x2="421.13" y2="301.6" stroke="#3a3a3a" stroke-width="1.4"/>
<text x="423.43" y="305.9" font-family="Liberation Sans, sans-serif" font-size="5.8" font-weight="bold" text-anchor="end" fill="#1a1a1a" transform="rotate(-45 423.43 305.9)" stroke="#1a1a1a" stroke-width="0.1">36</text>
<line x1="430.67" y1="299.3" x2="430.67" y2="301.6" stroke="#3a3a3a" stroke-width="1.4"/>
<text x="432.97" y="305.9" font-family="Liberation Sans, sans-serif" font-size="5.8" font-weight="bold" text-anchor="end" fill="#1a1a1a" transform="rotate(-45 432.97 305.9)" stroke="#1a1a1a" stroke-width="0.1">48</text>
<line x1="440.21" y1="299.3" x2="440.21" y2="301.6" stroke="#3a3a3a" stroke-width="1.4"/>
<text x="442.51" y="305.9" font-family="Liberation Sans, sans-serif" font-size="5.8" font-weight="bold" text-anchor="end" fill="#1a1a1a" transform="rotate(-45 442.51 305.9)" stroke="#1a1a1a" stroke-width="0.1">60</text>
<line x1="449.76" y1="299.3" x2="449.76" y2="301.6" stroke="#3a3a3a" stroke-width="1.4"/>
<text x="452.06" y="305.9" font-family="Liberation Sans, sans-serif" font-size="5.8" font-weight="bold" text-anchor="end" fill="#1a1a1a" transform="rotate(-45 452.06 305.9)" stroke="#1a1a1a" stroke-width="0.1">72</text>
<line x1="459.3" y1="299.3" x2="459.3" y2="301.6" stroke="#3a3a3a" stroke-width="1.4"/>
<text x="461.6" y="305.9" font-family="Liberation Sans, sans-serif" font-size="5.8" font-weight="bold" text-anchor="end" fill="#1a1a1a" transform="rotate(-45 461.6 305.9)" stroke="#1a1a1a" stroke-width="0.1">84</text>
<line x1="471.5" y1="299.3" x2="471.5" y2="301.6" stroke="#3a3a3a" stroke-width="1.4"/>
<text x="473.8" y="305.9" font-family="Liberation Sans, sans-serif" font-size="5.8" font-weight="bold" text-anchor="end" fill="#1a1a1a" transform="rotate(-45 473.8 305.9)" stroke="#1a1a1a" stroke-width="0.1">144</text>
<line x1="481.4" y1="299.3" x2="481.4" y2="301.6" stroke="#3a3a3a" stroke-width="1.4"/>
<text x="483.7" y="305.9" font-family="Liberation Sans, sans-serif" font-size="5.8" font-weight="bold" text-anchor="end" fill="#1a1a1a" transform="rotate(-45 483.7 305.9)" stroke="#1a1a1a" stroke-width="0.1">216</text>
<line x1="491.3" y1="299.3" x2="491.3" y2="301.6" stroke="#3a3a3a" stroke-width="1.4"/>
<text x="493.6" y="305.9" font-family="Liberation Sans, sans-serif" font-size="5.8" font-weight="bold" text-anchor="end" fill="#1a1a1a" transform="rotate(-45 493.6 305.9)" stroke="#1a1a1a" stroke-width="0.1">288</text>
<line x1="501.2" y1="299.3" x2="501.2" y2="301.6" stroke="#3a3a3a" stroke-width="1.4"/>
<text x="503.5" y="305.9" font-family="Liberation Sans, sans-serif" font-size="5.8" font-weight="bold" text-anchor="end" fill="#1a1a1a" transform="rotate(-45 503.5 305.9)" stroke="#1a1a1a" stroke-width="0.1">360</text>
<line x1="511.1" y1="299.3" x2="511.1" y2="301.6" stroke="#3a3a3a" stroke-width="1.4"/>
<text x="513.4" y="305.9" font-family="Liberation Sans, sans-serif" font-size="5.8" font-weight="bold" text-anchor="end" fill="#1a1a1a" transform="rotate(-45 513.4 305.9)" stroke="#1a1a1a" stroke-width="0.1">432</text>
<text x="423.6" y="323.9" font-family="Liberation Sans, sans-serif" font-size="8.2" font-weight="bold" text-anchor="start" fill="#1a1a1a" stroke="#1a1a1a" stroke-width="0.35" textLength="56" lengthAdjust="spacingAndGlyphs">Storage time (h)</text>
<text x="383" y="258.6" font-family="Liberation Sans, sans-serif" font-size="8.4" font-weight="bold" text-anchor="middle" fill="#1a1a1a" transform="rotate(-90 383 258.6)" stroke="#1a1a1a" stroke-width="0.35" textLength="63" lengthAdjust="spacingAndGlyphs">TVB-N (mg/100 g)</text>
<polyline points="392.5,273.4 450.1,270.8" fill="none" stroke="#f01e28" stroke-width="1" stroke-linejoin="round"/>
<line x1="392.5" y1="271.4" x2="392.5" y2="275.4" stroke="#f01e28" stroke-width="1.1"/>
<line x1="390.6" y1="271.4" x2="394.4" y2="271.4" stroke="#f01e28" stroke-width="1.1"/>
<line x1="390.6" y1="275.4" x2="394.4" y2="275.4" stroke="#f01e28" stroke-width="1.1"/>
<rect x="391.2" y="272.1" width="2.6" height="2.6" fill="#f01e28"/>
<line x1="450.1" y1="265.8" x2="450.1" y2="275.8" stroke="#f01e28" stroke-width="1.1"/>
<line x1="448.2" y1="265.8" x2="452" y2="265.8" stroke="#f01e28" stroke-width="1.1"/>
<line x1="448.2" y1="275.8" x2="452" y2="275.8" stroke="#f01e28" stroke-width="1.1"/>
<rect x="448.8" y="269.5" width="2.6" height="2.6" fill="#f01e28"/>
<polyline points="471.5,267.2 481.3,254.8 491.1,253.9 500.9,232" fill="none" stroke="#f01e28" stroke-width="1" stroke-linejoin="round"/>
<line x1="471.5" y1="263.2" x2="471.5" y2="271.2" stroke="#f01e28" stroke-width="1.1"/>
<line x1="469.6" y1="263.2" x2="473.4" y2="263.2" stroke="#f01e28" stroke-width="1.1"/>
<line x1="469.6" y1="271.2" x2="473.4" y2="271.2" stroke="#f01e28" stroke-width="1.1"/>
<rect x="470.2" y="265.9" width="2.6" height="2.6" fill="#f01e28"/>
<line x1="481.3" y1="249.3" x2="481.3" y2="260.3" stroke="#f01e28" stroke-width="1.1"/>
<line x1="479.4" y1="249.3" x2="483.2" y2="249.3" stroke="#f01e28" stroke-width="1.1"/>
<line x1="479.4" y1="260.3" x2="483.2" y2="260.3" stroke="#f01e28" stroke-width="1.1"/>
<rect x="480" y="253.5" width="2.6" height="2.6" fill="#f01e28"/>
<line x1="491.1" y1="250.4" x2="491.1" y2="257.4" stroke="#f01e28" stroke-width="1.1"/>
<line x1="489.2" y1="250.4" x2="493" y2="250.4" stroke="#f01e28" stroke-width="1.1"/>
<line x1="489.2" y1="257.4" x2="493" y2="257.4" stroke="#f01e28" stroke-width="1.1"/>
<rect x="489.8" y="252.6" width="2.6" height="2.6" fill="#f01e28"/>
<line x1="500.9" y1="227.5" x2="500.9" y2="236.5" stroke="#f01e28" stroke-width="1.1"/>
<line x1="499" y1="227.5" x2="502.8" y2="227.5" stroke="#f01e28" stroke-width="1.1"/>
<line x1="499" y1="236.5" x2="502.8" y2="236.5" stroke="#f01e28" stroke-width="1.1"/>
<rect x="499.6" y="230.7" width="2.6" height="2.6" fill="#f01e28"/>
<polyline points="392.5,277.5 402.2,269.1 412.7,262 421.6,260.1 431,253 440.7,244.1 450.1,227.5" fill="none" stroke="#24b034" stroke-width="1" stroke-linejoin="round"/>
<line x1="392.5" y1="276" x2="392.5" y2="279" stroke="#24b034" stroke-width="1.1"/>
<line x1="390.6" y1="276" x2="394.4" y2="276" stroke="#24b034" stroke-width="1.1"/>
<line x1="390.6" y1="279" x2="394.4" y2="279" stroke="#24b034" stroke-width="1.1"/>
<rect x="391.2" y="276.2" width="2.6" height="2.6" fill="#24b034"/>
<line x1="402.2" y1="256.1" x2="402.2" y2="282.1" stroke="#24b034" stroke-width="1.1"/>
<line x1="400.3" y1="256.1" x2="404.1" y2="256.1" stroke="#24b034" stroke-width="1.1"/>
<line x1="400.3" y1="282.1" x2="404.1" y2="282.1" stroke="#24b034" stroke-width="1.1"/>
<rect x="400.9" y="267.8" width="2.6" height="2.6" fill="#24b034"/>
<line x1="412.7" y1="259" x2="412.7" y2="265" stroke="#24b034" stroke-width="1.1"/>
<line x1="410.8" y1="259" x2="414.6" y2="259" stroke="#24b034" stroke-width="1.1"/>
<line x1="410.8" y1="265" x2="414.6" y2="265" stroke="#24b034" stroke-width="1.1"/>
<rect x="411.4" y="260.7" width="2.6" height="2.6" fill="#24b034"/>
<line x1="421.6" y1="258.1" x2="421.6" y2="262.1" stroke="#24b034" stroke-width="1.1"/>
<line x1="419.7" y1="258.1" x2="423.5" y2="258.1" stroke="#24b034" stroke-width="1.1"/>
<line x1="419.7" y1="262.1" x2="423.5" y2="262.1" stroke="#24b034" stroke-width="1.1"/>
<rect x="420.3" y="258.8" width="2.6" height="2.6" fill="#24b034"/>
<line x1="431" y1="252" x2="431" y2="254" stroke="#24b034" stroke-width="1.1"/>
<line x1="429.1" y1="252" x2="432.9" y2="252" stroke="#24b034" stroke-width="1.1"/>
<line x1="429.1" y1="254" x2="432.9" y2="254" stroke="#24b034" stroke-width="1.1"/>
<rect x="429.7" y="251.7" width="2.6" height="2.6" fill="#24b034"/>
<line x1="440.7" y1="240.6" x2="440.7" y2="247.6" stroke="#24b034" stroke-width="1.1"/>
<line x1="438.8" y1="240.6" x2="442.6" y2="240.6" stroke="#24b034" stroke-width="1.1"/>
<line x1="438.8" y1="247.6" x2="442.6" y2="247.6" stroke="#24b034" stroke-width="1.1"/>
<rect x="439.4" y="242.8" width="2.6" height="2.6" fill="#24b034"/>
<line x1="450.1" y1="226.5" x2="450.1" y2="228.5" stroke="#24b034" stroke-width="1.1"/>
<line x1="448.2" y1="226.5" x2="452" y2="226.5" stroke="#24b034" stroke-width="1.1"/>
<line x1="448.2" y1="228.5" x2="452" y2="228.5" stroke="#24b034" stroke-width="1.1"/>
<rect x="448.8" y="226.2" width="2.6" height="2.6" fill="#24b034"/>
<polyline points="392.5,268 394.3,263.9 396.7,256 399.1,253.7 400.8,251.3 405,228.2 408.6,227.5" fill="none" stroke="#1f44b4" stroke-width="1" stroke-linejoin="round"/>
<line x1="392.5" y1="266" x2="392.5" y2="270" stroke="#1f44b4" stroke-width="1.1"/>
<line x1="390.6" y1="266" x2="394.4" y2="266" stroke="#1f44b4" stroke-width="1.1"/>
<line x1="390.6" y1="270" x2="394.4" y2="270" stroke="#1f44b4" stroke-width="1.1"/>
<rect x="391.2" y="266.7" width="2.6" height="2.6" fill="#1f44b4"/>
<line x1="394.3" y1="260.9" x2="394.3" y2="266.9" stroke="#1f44b4" stroke-width="1.1"/>
<line x1="392.4" y1="260.9" x2="396.2" y2="260.9" stroke="#1f44b4" stroke-width="1.1"/>
<line x1="392.4" y1="266.9" x2="396.2" y2="266.9" stroke="#1f44b4" stroke-width="1.1"/>
<rect x="393" y="262.6" width="2.6" height="2.6" fill="#1f44b4"/>
<line x1="396.7" y1="252" x2="396.7" y2="260" stroke="#1f44b4" stroke-width="1.1"/>
<line x1="394.8" y1="252" x2="398.6" y2="252" stroke="#1f44b4" stroke-width="1.1"/>
<line x1="394.8" y1="260" x2="398.6" y2="260" stroke="#1f44b4" stroke-width="1.1"/>
<rect x="395.4" y="254.7" width="2.6" height="2.6" fill="#1f44b4"/>
<line x1="399.1" y1="250.7" x2="399.1" y2="256.7" stroke="#1f44b4" stroke-width="1.1"/>
<line x1="397.2" y1="250.7" x2="401" y2="250.7" stroke="#1f44b4" stroke-width="1.1"/>
<line x1="397.2" y1="256.7" x2="401" y2="256.7" stroke="#1f44b4" stroke-width="1.1"/>
<rect x="397.8" y="252.4" width="2.6" height="2.6" fill="#1f44b4"/>
<line x1="400.8" y1="250.3" x2="400.8" y2="252.3" stroke="#1f44b4" stroke-width="1.1"/>
<line x1="398.9" y1="250.3" x2="402.7" y2="250.3" stroke="#1f44b4" stroke-width="1.1"/>
<line x1="398.9" y1="252.3" x2="402.7" y2="252.3" stroke="#1f44b4" stroke-width="1.1"/>
<rect x="399.5" y="250" width="2.6" height="2.6" fill="#1f44b4"/>
<line x1="405" y1="225.7" x2="405" y2="230.7" stroke="#1f44b4" stroke-width="1.1"/>
<line x1="403.1" y1="225.7" x2="406.9" y2="225.7" stroke="#1f44b4" stroke-width="1.1"/>
<line x1="403.1" y1="230.7" x2="406.9" y2="230.7" stroke="#1f44b4" stroke-width="1.1"/>
<rect x="403.7" y="226.9" width="2.6" height="2.6" fill="#1f44b4"/>
<line x1="408.6" y1="226" x2="408.6" y2="229" stroke="#1f44b4" stroke-width="1.1"/>
<line x1="406.7" y1="226" x2="410.5" y2="226" stroke="#1f44b4" stroke-width="1.1"/>
<line x1="406.7" y1="229" x2="410.5" y2="229" stroke="#1f44b4" stroke-width="1.1"/>
<rect x="407.3" y="226.2" width="2.6" height="2.6" fill="#1f44b4"/>
<polyline points="450.1,270.7 459,270.3" fill="none" stroke="#f01e28" stroke-width="1" stroke-linejoin="round"/>
<polyline points="464.6,269.4 471.5,267.5" fill="none" stroke="#f01e28" stroke-width="1" stroke-linejoin="round"/>
<text x="396.7" y="282.3" font-family="Liberation Sans, sans-serif" font-size="3.8" font-weight="normal" text-anchor="middle" fill="#555">a</text>
<text x="408.6" y="270.4" font-family="Liberation Sans, sans-serif" font-size="3.8" font-weight="normal" text-anchor="middle" fill="#555">ab</text>
<text x="397.4" y="246.6" font-family="Liberation Sans, sans-serif" font-size="3.8" font-weight="normal" text-anchor="middle" fill="#555">b</text>
<text x="401" y="249.3" font-family="Liberation Sans, sans-serif" font-size="3.8" font-weight="normal" text-anchor="middle" fill="#555">b</text>
<text x="405" y="224" font-family="Liberation Sans, sans-serif" font-size="3.8" font-weight="normal" text-anchor="middle" fill="#555">c</text>
<text x="408.6" y="224" font-family="Liberation Sans, sans-serif" font-size="3.8" font-weight="normal" text-anchor="middle" fill="#555">c</text>
<text x="389.5" y="256.3" font-family="Liberation Sans, sans-serif" font-size="3.8" font-weight="normal" text-anchor="middle" fill="#555">a</text>
<text x="415.7" y="266.8" font-family="Liberation Sans, sans-serif" font-size="3.8" font-weight="normal" text-anchor="middle" fill="#555">bc</text>
<text x="425.2" y="263.7" font-family="Liberation Sans, sans-serif" font-size="3.8" font-weight="normal" text-anchor="middle" fill="#555">bc</text>
<text x="435" y="257.8" font-family="Liberation Sans, sans-serif" font-size="3.8" font-weight="normal" text-anchor="middle" fill="#555">cd</text>
<text x="443.9" y="248.9" font-family="Liberation Sans, sans-serif" font-size="3.8" font-weight="normal" text-anchor="middle" fill="#555">d</text>
<text x="452.8" y="231.1" font-family="Liberation Sans, sans-serif" font-size="3.8" font-weight="normal" text-anchor="middle" fill="#555">e</text>
<text x="454.6" y="274.8" font-family="Liberation Sans, sans-serif" font-size="3.8" font-weight="normal" text-anchor="middle" fill="#555">a</text>
<text x="475.1" y="269.8" font-family="Liberation Sans, sans-serif" font-size="3.8" font-weight="normal" text-anchor="middle" fill="#555">ab</text>
<text x="484.5" y="259.6" font-family="Liberation Sans, sans-serif" font-size="3.8" font-weight="normal" text-anchor="middle" fill="#555">b</text>
<text x="495.2" y="255.5" font-family="Liberation Sans, sans-serif" font-size="3.8" font-weight="normal" text-anchor="middle" fill="#555">b</text>
<text x="505.4" y="236.8" font-family="Liberation Sans, sans-serif" font-size="3.8" font-weight="normal" text-anchor="middle" fill="#555">c</text>
<text x="419.5" y="205" font-family="Liberation Sans, sans-serif" font-size="3" font-weight="normal" text-anchor="middle" fill="#555">a</text>
<text x="430.5" y="205" font-family="Liberation Sans, sans-serif" font-size="3" font-weight="normal" text-anchor="middle" fill="#555">a</text>
<text x="441.5" y="196" font-family="Liberation Sans, sans-serif" font-size="3" font-weight="normal" text-anchor="middle" fill="#555">b</text>
<text x="452.5" y="196" font-family="Liberation Sans, sans-serif" font-size="3" font-weight="normal" text-anchor="middle" fill="#555">b</text>
<text x="464" y="190" font-family="Liberation Sans, sans-serif" font-size="3" font-weight="normal" text-anchor="middle" fill="#555">c</text>
<text x="475.5" y="180" font-family="Liberation Sans, sans-serif" font-size="3" font-weight="normal" text-anchor="middle" fill="#555">d</text>
<line x1="416.4" y1="172.8" x2="416.4" y2="212.3" stroke="#808080" stroke-width="0.8"/>
<line x1="415.4" y1="172.8" x2="416.4" y2="172.8" stroke="#808080" stroke-width="0.8"/>
<text x="415" y="174.02" font-family="Liberation Sans, sans-serif" font-size="3.4" font-weight="bold" text-anchor="end" fill="#333">20</text>
<line x1="415.4" y1="182.68" x2="416.4" y2="182.68" stroke="#808080" stroke-width="0.8"/>
<text x="415" y="183.9" font-family="Liberation Sans, sans-serif" font-size="3.4" font-weight="bold" text-anchor="end" fill="#333">15</text>
<line x1="415.4" y1="192.55" x2="416.4" y2="192.55" stroke="#808080" stroke-width="0.8"/>
<text x="415" y="193.77" font-family="Liberation Sans, sans-serif" font-size="3.4" font-weight="bold" text-anchor="end" fill="#333">10</text>
<line x1="415.4" y1="202.43" x2="416.4" y2="202.43" stroke="#808080" stroke-width="0.8"/>
<text x="415" y="203.65" font-family="Liberation Sans, sans-serif" font-size="3.4" font-weight="bold" text-anchor="end" fill="#333">5</text>
<line x1="415.4" y1="212.3" x2="416.4" y2="212.3" stroke="#808080" stroke-width="0.8"/>
<text x="415" y="213.52" font-family="Liberation Sans, sans-serif" font-size="3.4" font-weight="bold" text-anchor="end" fill="#333">0</text>
<line x1="416.4" y1="212.3" x2="483.5" y2="212.3" stroke="#808080" stroke-width="0.8"/>
<line x1="416.4" y1="212.3" x2="416.4" y2="213.5" stroke="#808080" stroke-width="0.8"/>
<text x="416.4" y="217.2" font-family="Liberation Sans, sans-serif" font-size="3.4" font-weight="bold" text-anchor="middle" fill="#333">0</text>
<line x1="427.6" y1="212.3" x2="427.6" y2="213.5" stroke="#808080" stroke-width="0.8"/>
<text x="427.6" y="217.2" font-family="Liberation Sans, sans-serif" font-size="3.4" font-weight="bold" text-anchor="middle" fill="#333">5</text>
<line x1="438.8" y1="212.3" x2="438.8" y2="213.5" stroke="#808080" stroke-width="0.8"/>
<text x="438.8" y="217.2" font-family="Liberation Sans, sans-serif" font-size="3.4" font-weight="bold" text-anchor="middle" fill="#333">10</text>
<line x1="450" y1="212.3" x2="450" y2="213.5" stroke="#808080" stroke-width="0.8"/>
<text x="450" y="217.2" font-family="Liberation Sans, sans-serif" font-size="3.4" font-weight="bold" text-anchor="middle" fill="#333">15</text>
<line x1="461.2" y1="212.3" x2="461.2" y2="213.5" stroke="#808080" stroke-width="0.8"/>
<text x="461.2" y="217.2" font-family="Liberation Sans, sans-serif" font-size="3.4" font-weight="bold" text-anchor="middle" fill="#333">20</text>
<line x1="472.4" y1="212.3" x2="472.4" y2="213.5" stroke="#808080" stroke-width="0.8"/>
<text x="472.4" y="217.2" font-family="Liberation Sans, sans-serif" font-size="3.4" font-weight="bold" text-anchor="middle" fill="#333">25</text>
<line x1="483.6" y1="212.3" x2="483.6" y2="213.5" stroke="#808080" stroke-width="0.8"/>
<text x="483.6" y="217.2" font-family="Liberation Sans, sans-serif" font-size="3.4" font-weight="bold" text-anchor="middle" fill="#333">30</text>
<text x="431.8" y="223.4" font-family="Liberation Sans, sans-serif" font-size="4.9" font-weight="bold" text-anchor="start" fill="#1a1a1a" stroke="#1a1a1a" stroke-width="0.15">Storage time (d)</text>
<text x="409.2" y="192.2" font-family="Liberation Sans, sans-serif" font-size="4.4" font-weight="bold" text-anchor="middle" fill="#1a1a1a" transform="rotate(-90 409.2 192.2)" stroke="#1a1a1a" stroke-width="0.12">TVB-N (mg/100 g)</text>
<polyline points="416.4,200.2 427.6,200.3 438.8,193.5 450,193.2 461.2,187.8 472.4,177.1" fill="none" stroke="#ae78d8" stroke-width="0.7" stroke-linejoin="round"/>
<line x1="416.4" y1="199.2" x2="416.4" y2="201.2" stroke="#8a48c0" stroke-width="0.75"/>
<line x1="415.3" y1="199.2" x2="417.5" y2="199.2" stroke="#8a48c0" stroke-width="0.75"/>
<line x1="415.3" y1="201.2" x2="417.5" y2="201.2" stroke="#8a48c0" stroke-width="0.75"/>
<rect x="415.6" y="199.4" width="1.6" height="1.6" fill="#8a48c0"/>
<line x1="427.6" y1="199.3" x2="427.6" y2="201.3" stroke="#8a48c0" stroke-width="0.75"/>
<line x1="426.5" y1="199.3" x2="428.7" y2="199.3" stroke="#8a48c0" stroke-width="0.75"/>
<line x1="426.5" y1="201.3" x2="428.7" y2="201.3" stroke="#8a48c0" stroke-width="0.75"/>
<rect x="426.8" y="199.5" width="1.6" height="1.6" fill="#8a48c0"/>
<line x1="438.8" y1="191.5" x2="438.8" y2="195.5" stroke="#8a48c0" stroke-width="0.75"/>
<line x1="437.7" y1="191.5" x2="439.9" y2="191.5" stroke="#8a48c0" stroke-width="0.75"/>
<line x1="437.7" y1="195.5" x2="439.9" y2="195.5" stroke="#8a48c0" stroke-width="0.75"/>
<rect x="438" y="192.7" width="1.6" height="1.6" fill="#8a48c0"/>
<line x1="450" y1="191.7" x2="450" y2="194.7" stroke="#8a48c0" stroke-width="0.75"/>
<line x1="448.9" y1="191.7" x2="451.1" y2="191.7" stroke="#8a48c0" stroke-width="0.75"/>
<line x1="448.9" y1="194.7" x2="451.1" y2="194.7" stroke="#8a48c0" stroke-width="0.75"/>
<rect x="449.2" y="192.4" width="1.6" height="1.6" fill="#8a48c0"/>
<line x1="461.2" y1="181.3" x2="461.2" y2="194.3" stroke="#8a48c0" stroke-width="0.75"/>
<line x1="460.1" y1="181.3" x2="462.3" y2="181.3" stroke="#8a48c0" stroke-width="0.75"/>
<line x1="460.1" y1="194.3" x2="462.3" y2="194.3" stroke="#8a48c0" stroke-width="0.75"/>
<rect x="460.4" y="187" width="1.6" height="1.6" fill="#8a48c0"/>
<line x1="472.4" y1="175.6" x2="472.4" y2="178.6" stroke="#8a48c0" stroke-width="0.75"/>
<line x1="471.3" y1="175.6" x2="473.5" y2="175.6" stroke="#8a48c0" stroke-width="0.75"/>
<line x1="471.3" y1="178.6" x2="473.5" y2="178.6" stroke="#8a48c0" stroke-width="0.75"/>
<rect x="471.6" y="176.3" width="1.6" height="1.6" fill="#8a48c0"/>
<line x1="514" y1="38.5" x2="521.6" y2="38.5" stroke="#1f44b4" stroke-width="1.2"/>
<rect x="516.8" y="37.3" width="2.4" height="2.4" fill="#1f44b4" transform="rotate(45 518 38.5)"/>
<text x="525.9" y="41.2" font-family="Liberation Sans, sans-serif" font-size="7.5" font-weight="normal" text-anchor="start" fill="#1a1a1a" stroke="#1a1a1a" stroke-width="0.15">25</text>
<circle cx="537.3" cy="36.5" r="0.75" fill="none" stroke="#1a1a1a" stroke-width="0.5"/>
<text x="538.1" y="41.2" font-family="Liberation Sans, sans-serif" font-size="7.5" font-weight="normal" text-anchor="start" fill="#1a1a1a" stroke="#1a1a1a" stroke-width="0.15">C</text>
<line x1="514" y1="47.4" x2="521.6" y2="47.4" stroke="#24b034" stroke-width="1.2"/>
<rect x="516.8" y="46.2" width="2.4" height="2.4" fill="#24b034" transform="rotate(45 518 47.4)"/>
<text x="525.9" y="50.1" font-family="Liberation Sans, sans-serif" font-size="7.5" font-weight="normal" text-anchor="start" fill="#1a1a1a" stroke="#1a1a1a" stroke-width="0.15">10</text>
<circle cx="537.3" cy="45.4" r="0.75" fill="none" stroke="#1a1a1a" stroke-width="0.5"/>
<text x="538.1" y="50.1" font-family="Liberation Sans, sans-serif" font-size="7.5" font-weight="normal" text-anchor="start" fill="#1a1a1a" stroke="#1a1a1a" stroke-width="0.15">C</text>
<line x1="514" y1="55.5" x2="521.6" y2="55.5" stroke="#f01e28" stroke-width="1.2"/>
<rect x="516.8" y="54.3" width="2.4" height="2.4" fill="#f01e28" transform="rotate(45 518 55.5)"/>
<text x="527.8" y="58.2" font-family="Liberation Sans, sans-serif" font-size="7.5" font-weight="normal" text-anchor="start" fill="#1a1a1a" stroke="#1a1a1a" stroke-width="0.15">4</text>
<circle cx="537.3" cy="53.5" r="0.75" fill="none" stroke="#1a1a1a" stroke-width="0.5"/>
<text x="538.1" y="58.2" font-family="Liberation Sans, sans-serif" font-size="7.5" font-weight="normal" text-anchor="start" fill="#1a1a1a" stroke="#1a1a1a" stroke-width="0.15">C</text>
</g>
</svg></body></html>
